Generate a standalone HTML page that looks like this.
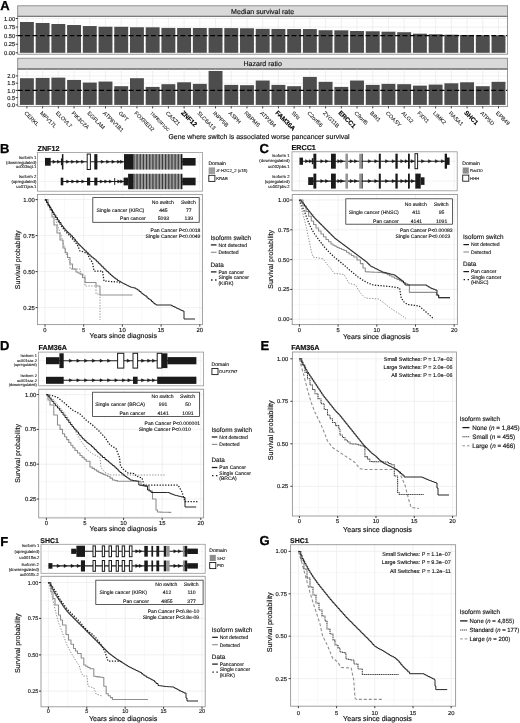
<!DOCTYPE html>
<html lang="en">
<head>
<meta charset="utf-8">
<title>Isoform switches and pancancer survival</title>
<style>
html,body{margin:0;padding:0;background:#fff;}
body{width:520px;height:723px;overflow:hidden;}
svg{display:block;font-family:'Liberation Sans', Arial, Helvetica, sans-serif;}
</style>
</head>
<body>
<svg width="520" height="723" viewBox="0 0 520 723" text-rendering="geometricPrecision" font-family="'Liberation Sans', Arial, Helvetica, sans-serif">
<rect x="0" y="0" width="520" height="723" fill="#ffffff"/>
<text x="0.3" y="10.0" font-size="13" font-weight="bold" fill="#000" stroke="#000" stroke-width="0.286">A</text>
<rect x="17.70" y="5.80" width="489.90" height="10.60" fill="#d9d9d9" stroke="#7f7f7f" stroke-width="0.8"/>
<line x1="17.70" y1="16.40" x2="507.60" y2="16.40" stroke="#666" stroke-width="1.1"/>
<text x="262.65000000000003" y="13.5" font-size="7.05" text-anchor="middle" fill="#111" stroke="#111" stroke-width="0.155">Median survival rate</text>
<line x1="17.70" y1="52.80" x2="507.60" y2="52.80" stroke="#e6e6e6" stroke-width="0.6"/>
<line x1="17.70" y1="44.22" x2="507.60" y2="44.22" stroke="#e6e6e6" stroke-width="0.6"/>
<line x1="17.70" y1="35.65" x2="507.60" y2="35.65" stroke="#e6e6e6" stroke-width="0.6"/>
<line x1="17.70" y1="27.07" x2="507.60" y2="27.07" stroke="#e6e6e6" stroke-width="0.6"/>
<line x1="17.70" y1="18.50" x2="507.60" y2="18.50" stroke="#e6e6e6" stroke-width="0.6"/>
<line x1="17.70" y1="48.51" x2="507.60" y2="48.51" stroke="#f2f2f2" stroke-width="0.4"/>
<line x1="17.70" y1="39.94" x2="507.60" y2="39.94" stroke="#f2f2f2" stroke-width="0.4"/>
<line x1="17.70" y1="31.36" x2="507.60" y2="31.36" stroke="#f2f2f2" stroke-width="0.4"/>
<line x1="17.70" y1="22.79" x2="507.60" y2="22.79" stroke="#f2f2f2" stroke-width="0.4"/>
<line x1="26.90" y1="16.40" x2="26.90" y2="54.20" stroke="#e6e6e6" stroke-width="0.6"/>
<line x1="42.62" y1="16.40" x2="42.62" y2="54.20" stroke="#e6e6e6" stroke-width="0.6"/>
<line x1="58.34" y1="16.40" x2="58.34" y2="54.20" stroke="#e6e6e6" stroke-width="0.6"/>
<line x1="74.06" y1="16.40" x2="74.06" y2="54.20" stroke="#e6e6e6" stroke-width="0.6"/>
<line x1="89.78" y1="16.40" x2="89.78" y2="54.20" stroke="#e6e6e6" stroke-width="0.6"/>
<line x1="105.50" y1="16.40" x2="105.50" y2="54.20" stroke="#e6e6e6" stroke-width="0.6"/>
<line x1="121.22" y1="16.40" x2="121.22" y2="54.20" stroke="#e6e6e6" stroke-width="0.6"/>
<line x1="136.94" y1="16.40" x2="136.94" y2="54.20" stroke="#e6e6e6" stroke-width="0.6"/>
<line x1="152.66" y1="16.40" x2="152.66" y2="54.20" stroke="#e6e6e6" stroke-width="0.6"/>
<line x1="168.38" y1="16.40" x2="168.38" y2="54.20" stroke="#e6e6e6" stroke-width="0.6"/>
<line x1="184.10" y1="16.40" x2="184.10" y2="54.20" stroke="#e6e6e6" stroke-width="0.6"/>
<line x1="199.82" y1="16.40" x2="199.82" y2="54.20" stroke="#e6e6e6" stroke-width="0.6"/>
<line x1="215.54" y1="16.40" x2="215.54" y2="54.20" stroke="#e6e6e6" stroke-width="0.6"/>
<line x1="231.26" y1="16.40" x2="231.26" y2="54.20" stroke="#e6e6e6" stroke-width="0.6"/>
<line x1="246.98" y1="16.40" x2="246.98" y2="54.20" stroke="#e6e6e6" stroke-width="0.6"/>
<line x1="262.70" y1="16.40" x2="262.70" y2="54.20" stroke="#e6e6e6" stroke-width="0.6"/>
<line x1="278.42" y1="16.40" x2="278.42" y2="54.20" stroke="#e6e6e6" stroke-width="0.6"/>
<line x1="294.14" y1="16.40" x2="294.14" y2="54.20" stroke="#e6e6e6" stroke-width="0.6"/>
<line x1="309.86" y1="16.40" x2="309.86" y2="54.20" stroke="#e6e6e6" stroke-width="0.6"/>
<line x1="325.58" y1="16.40" x2="325.58" y2="54.20" stroke="#e6e6e6" stroke-width="0.6"/>
<line x1="341.30" y1="16.40" x2="341.30" y2="54.20" stroke="#e6e6e6" stroke-width="0.6"/>
<line x1="357.02" y1="16.40" x2="357.02" y2="54.20" stroke="#e6e6e6" stroke-width="0.6"/>
<line x1="372.74" y1="16.40" x2="372.74" y2="54.20" stroke="#e6e6e6" stroke-width="0.6"/>
<line x1="388.46" y1="16.40" x2="388.46" y2="54.20" stroke="#e6e6e6" stroke-width="0.6"/>
<line x1="404.18" y1="16.40" x2="404.18" y2="54.20" stroke="#e6e6e6" stroke-width="0.6"/>
<line x1="419.90" y1="16.40" x2="419.90" y2="54.20" stroke="#e6e6e6" stroke-width="0.6"/>
<line x1="435.62" y1="16.40" x2="435.62" y2="54.20" stroke="#e6e6e6" stroke-width="0.6"/>
<line x1="451.34" y1="16.40" x2="451.34" y2="54.20" stroke="#e6e6e6" stroke-width="0.6"/>
<line x1="467.06" y1="16.40" x2="467.06" y2="54.20" stroke="#e6e6e6" stroke-width="0.6"/>
<line x1="482.78" y1="16.40" x2="482.78" y2="54.20" stroke="#e6e6e6" stroke-width="0.6"/>
<line x1="498.50" y1="16.40" x2="498.50" y2="54.20" stroke="#e6e6e6" stroke-width="0.6"/>
<rect x="19.95" y="22.00" width="13.90" height="30.80" fill="#4d4d4d" stroke="none" stroke-width="1"/>
<rect x="35.67" y="22.99" width="13.90" height="29.81" fill="#4d4d4d" stroke="none" stroke-width="1"/>
<rect x="51.39" y="23.99" width="13.90" height="28.81" fill="#4d4d4d" stroke="none" stroke-width="1"/>
<rect x="67.11" y="25.02" width="13.90" height="27.78" fill="#4d4d4d" stroke="none" stroke-width="1"/>
<rect x="82.83" y="26.05" width="13.90" height="26.75" fill="#4d4d4d" stroke="none" stroke-width="1"/>
<rect x="98.55" y="26.73" width="13.90" height="26.07" fill="#4d4d4d" stroke="none" stroke-width="1"/>
<rect x="114.27" y="26.80" width="13.90" height="26.00" fill="#4d4d4d" stroke="none" stroke-width="1"/>
<rect x="129.99" y="27.25" width="13.90" height="25.55" fill="#4d4d4d" stroke="none" stroke-width="1"/>
<rect x="145.71" y="27.32" width="13.90" height="25.48" fill="#4d4d4d" stroke="none" stroke-width="1"/>
<rect x="161.43" y="27.93" width="13.90" height="24.87" fill="#4d4d4d" stroke="none" stroke-width="1"/>
<rect x="177.15" y="28.00" width="13.90" height="24.80" fill="#4d4d4d" stroke="none" stroke-width="1"/>
<rect x="192.87" y="28.00" width="13.90" height="24.80" fill="#4d4d4d" stroke="none" stroke-width="1"/>
<rect x="208.59" y="28.04" width="13.90" height="24.76" fill="#4d4d4d" stroke="none" stroke-width="1"/>
<rect x="224.31" y="28.10" width="13.90" height="24.70" fill="#4d4d4d" stroke="none" stroke-width="1"/>
<rect x="240.03" y="28.28" width="13.90" height="24.52" fill="#4d4d4d" stroke="none" stroke-width="1"/>
<rect x="255.75" y="28.89" width="13.90" height="23.91" fill="#4d4d4d" stroke="none" stroke-width="1"/>
<rect x="271.47" y="28.96" width="13.90" height="23.84" fill="#4d4d4d" stroke="none" stroke-width="1"/>
<rect x="287.19" y="29.00" width="13.90" height="23.80" fill="#4d4d4d" stroke="none" stroke-width="1"/>
<rect x="302.91" y="29.06" width="13.90" height="23.74" fill="#4d4d4d" stroke="none" stroke-width="1"/>
<rect x="318.63" y="30.23" width="13.90" height="22.57" fill="#4d4d4d" stroke="none" stroke-width="1"/>
<rect x="334.35" y="30.33" width="13.90" height="22.47" fill="#4d4d4d" stroke="none" stroke-width="1"/>
<rect x="350.07" y="31.02" width="13.90" height="21.78" fill="#4d4d4d" stroke="none" stroke-width="1"/>
<rect x="365.79" y="31.29" width="13.90" height="21.51" fill="#4d4d4d" stroke="none" stroke-width="1"/>
<rect x="381.51" y="31.71" width="13.90" height="21.09" fill="#4d4d4d" stroke="none" stroke-width="1"/>
<rect x="397.23" y="32.22" width="13.90" height="20.58" fill="#4d4d4d" stroke="none" stroke-width="1"/>
<rect x="412.95" y="33.69" width="13.90" height="19.11" fill="#4d4d4d" stroke="none" stroke-width="1"/>
<rect x="428.67" y="34.28" width="13.90" height="18.52" fill="#4d4d4d" stroke="none" stroke-width="1"/>
<rect x="444.39" y="34.69" width="13.90" height="18.11" fill="#4d4d4d" stroke="none" stroke-width="1"/>
<rect x="460.11" y="34.96" width="13.90" height="17.84" fill="#4d4d4d" stroke="none" stroke-width="1"/>
<rect x="475.83" y="35.31" width="13.90" height="17.49" fill="#4d4d4d" stroke="none" stroke-width="1"/>
<rect x="491.55" y="35.38" width="13.90" height="17.42" fill="#4d4d4d" stroke="none" stroke-width="1"/>
<line x1="17.70" y1="35.65" x2="507.60" y2="35.65" stroke="#000" stroke-width="1.3" stroke-dasharray="4.9 2.5"/>
<rect x="17.70" y="16.40" width="489.90" height="37.80" fill="none" stroke="#7f7f7f" stroke-width="0.8"/>
<line x1="15.70" y1="52.80" x2="17.70" y2="52.80" stroke="#222" stroke-width="0.9"/>
<text x="15.1" y="54.9" font-size="5.7" text-anchor="end" fill="#111" stroke="#111" stroke-width="0.125">0.00</text>
<line x1="15.70" y1="44.22" x2="17.70" y2="44.22" stroke="#222" stroke-width="0.9"/>
<text x="15.1" y="46.324999999999996" font-size="5.7" text-anchor="end" fill="#111" stroke="#111" stroke-width="0.125">0.25</text>
<line x1="15.70" y1="35.65" x2="17.70" y2="35.65" stroke="#222" stroke-width="0.9"/>
<text x="15.1" y="37.75" font-size="5.7" text-anchor="end" fill="#111" stroke="#111" stroke-width="0.125">0.50</text>
<line x1="15.70" y1="27.07" x2="17.70" y2="27.07" stroke="#222" stroke-width="0.9"/>
<text x="15.1" y="29.175" font-size="5.7" text-anchor="end" fill="#111" stroke="#111" stroke-width="0.125">0.75</text>
<line x1="15.70" y1="18.50" x2="17.70" y2="18.50" stroke="#222" stroke-width="0.9"/>
<text x="15.1" y="20.6" font-size="5.7" text-anchor="end" fill="#111" stroke="#111" stroke-width="0.125">1.00</text>
<rect x="17.70" y="58.20" width="489.90" height="10.80" fill="#d9d9d9" stroke="#7f7f7f" stroke-width="0.8"/>
<line x1="17.70" y1="69.00" x2="507.60" y2="69.00" stroke="#666" stroke-width="1.1"/>
<text x="262.65000000000003" y="65.8" font-size="7.05" text-anchor="middle" fill="#111" stroke="#111" stroke-width="0.155">Hazard ratio</text>
<line x1="17.70" y1="104.90" x2="507.60" y2="104.90" stroke="#e6e6e6" stroke-width="0.6"/>
<line x1="17.70" y1="97.65" x2="507.60" y2="97.65" stroke="#e6e6e6" stroke-width="0.6"/>
<line x1="17.70" y1="90.40" x2="507.60" y2="90.40" stroke="#e6e6e6" stroke-width="0.6"/>
<line x1="17.70" y1="83.15" x2="507.60" y2="83.15" stroke="#e6e6e6" stroke-width="0.6"/>
<line x1="17.70" y1="75.90" x2="507.60" y2="75.90" stroke="#e6e6e6" stroke-width="0.6"/>
<line x1="17.70" y1="101.28" x2="507.60" y2="101.28" stroke="#f2f2f2" stroke-width="0.4"/>
<line x1="17.70" y1="94.03" x2="507.60" y2="94.03" stroke="#f2f2f2" stroke-width="0.4"/>
<line x1="17.70" y1="86.78" x2="507.60" y2="86.78" stroke="#f2f2f2" stroke-width="0.4"/>
<line x1="17.70" y1="79.53" x2="507.60" y2="79.53" stroke="#f2f2f2" stroke-width="0.4"/>
<line x1="17.70" y1="72.28" x2="507.60" y2="72.28" stroke="#f2f2f2" stroke-width="0.4"/>
<line x1="26.90" y1="69.00" x2="26.90" y2="106.40" stroke="#e6e6e6" stroke-width="0.6"/>
<line x1="42.62" y1="69.00" x2="42.62" y2="106.40" stroke="#e6e6e6" stroke-width="0.6"/>
<line x1="58.34" y1="69.00" x2="58.34" y2="106.40" stroke="#e6e6e6" stroke-width="0.6"/>
<line x1="74.06" y1="69.00" x2="74.06" y2="106.40" stroke="#e6e6e6" stroke-width="0.6"/>
<line x1="89.78" y1="69.00" x2="89.78" y2="106.40" stroke="#e6e6e6" stroke-width="0.6"/>
<line x1="105.50" y1="69.00" x2="105.50" y2="106.40" stroke="#e6e6e6" stroke-width="0.6"/>
<line x1="121.22" y1="69.00" x2="121.22" y2="106.40" stroke="#e6e6e6" stroke-width="0.6"/>
<line x1="136.94" y1="69.00" x2="136.94" y2="106.40" stroke="#e6e6e6" stroke-width="0.6"/>
<line x1="152.66" y1="69.00" x2="152.66" y2="106.40" stroke="#e6e6e6" stroke-width="0.6"/>
<line x1="168.38" y1="69.00" x2="168.38" y2="106.40" stroke="#e6e6e6" stroke-width="0.6"/>
<line x1="184.10" y1="69.00" x2="184.10" y2="106.40" stroke="#e6e6e6" stroke-width="0.6"/>
<line x1="199.82" y1="69.00" x2="199.82" y2="106.40" stroke="#e6e6e6" stroke-width="0.6"/>
<line x1="215.54" y1="69.00" x2="215.54" y2="106.40" stroke="#e6e6e6" stroke-width="0.6"/>
<line x1="231.26" y1="69.00" x2="231.26" y2="106.40" stroke="#e6e6e6" stroke-width="0.6"/>
<line x1="246.98" y1="69.00" x2="246.98" y2="106.40" stroke="#e6e6e6" stroke-width="0.6"/>
<line x1="262.70" y1="69.00" x2="262.70" y2="106.40" stroke="#e6e6e6" stroke-width="0.6"/>
<line x1="278.42" y1="69.00" x2="278.42" y2="106.40" stroke="#e6e6e6" stroke-width="0.6"/>
<line x1="294.14" y1="69.00" x2="294.14" y2="106.40" stroke="#e6e6e6" stroke-width="0.6"/>
<line x1="309.86" y1="69.00" x2="309.86" y2="106.40" stroke="#e6e6e6" stroke-width="0.6"/>
<line x1="325.58" y1="69.00" x2="325.58" y2="106.40" stroke="#e6e6e6" stroke-width="0.6"/>
<line x1="341.30" y1="69.00" x2="341.30" y2="106.40" stroke="#e6e6e6" stroke-width="0.6"/>
<line x1="357.02" y1="69.00" x2="357.02" y2="106.40" stroke="#e6e6e6" stroke-width="0.6"/>
<line x1="372.74" y1="69.00" x2="372.74" y2="106.40" stroke="#e6e6e6" stroke-width="0.6"/>
<line x1="388.46" y1="69.00" x2="388.46" y2="106.40" stroke="#e6e6e6" stroke-width="0.6"/>
<line x1="404.18" y1="69.00" x2="404.18" y2="106.40" stroke="#e6e6e6" stroke-width="0.6"/>
<line x1="419.90" y1="69.00" x2="419.90" y2="106.40" stroke="#e6e6e6" stroke-width="0.6"/>
<line x1="435.62" y1="69.00" x2="435.62" y2="106.40" stroke="#e6e6e6" stroke-width="0.6"/>
<line x1="451.34" y1="69.00" x2="451.34" y2="106.40" stroke="#e6e6e6" stroke-width="0.6"/>
<line x1="467.06" y1="69.00" x2="467.06" y2="106.40" stroke="#e6e6e6" stroke-width="0.6"/>
<line x1="482.78" y1="69.00" x2="482.78" y2="106.40" stroke="#e6e6e6" stroke-width="0.6"/>
<line x1="498.50" y1="69.00" x2="498.50" y2="106.40" stroke="#e6e6e6" stroke-width="0.6"/>
<rect x="19.95" y="78.22" width="13.90" height="26.68" fill="#4d4d4d" stroke="none" stroke-width="1"/>
<rect x="35.67" y="77.93" width="13.90" height="26.97" fill="#4d4d4d" stroke="none" stroke-width="1"/>
<rect x="51.39" y="77.64" width="13.90" height="27.26" fill="#4d4d4d" stroke="none" stroke-width="1"/>
<rect x="67.11" y="79.96" width="13.90" height="24.94" fill="#4d4d4d" stroke="none" stroke-width="1"/>
<rect x="82.83" y="82.57" width="13.90" height="22.33" fill="#4d4d4d" stroke="none" stroke-width="1"/>
<rect x="98.55" y="81.56" width="13.90" height="23.34" fill="#4d4d4d" stroke="none" stroke-width="1"/>
<rect x="114.27" y="86.20" width="13.90" height="18.70" fill="#4d4d4d" stroke="none" stroke-width="1"/>
<rect x="129.99" y="78.22" width="13.90" height="26.68" fill="#4d4d4d" stroke="none" stroke-width="1"/>
<rect x="145.71" y="86.92" width="13.90" height="17.98" fill="#4d4d4d" stroke="none" stroke-width="1"/>
<rect x="161.43" y="84.17" width="13.90" height="20.73" fill="#4d4d4d" stroke="none" stroke-width="1"/>
<rect x="177.15" y="82.28" width="13.90" height="22.62" fill="#4d4d4d" stroke="none" stroke-width="1"/>
<rect x="192.87" y="83.88" width="13.90" height="21.03" fill="#4d4d4d" stroke="none" stroke-width="1"/>
<rect x="208.59" y="70.97" width="13.90" height="33.93" fill="#4d4d4d" stroke="none" stroke-width="1"/>
<rect x="224.31" y="84.89" width="13.90" height="20.01" fill="#4d4d4d" stroke="none" stroke-width="1"/>
<rect x="240.03" y="85.18" width="13.90" height="19.72" fill="#4d4d4d" stroke="none" stroke-width="1"/>
<rect x="255.75" y="80.54" width="13.90" height="24.36" fill="#4d4d4d" stroke="none" stroke-width="1"/>
<rect x="271.47" y="84.89" width="13.90" height="20.01" fill="#4d4d4d" stroke="none" stroke-width="1"/>
<rect x="287.19" y="86.20" width="13.90" height="18.70" fill="#4d4d4d" stroke="none" stroke-width="1"/>
<rect x="302.91" y="76.92" width="13.90" height="27.98" fill="#4d4d4d" stroke="none" stroke-width="1"/>
<rect x="318.63" y="81.84" width="13.90" height="23.06" fill="#4d4d4d" stroke="none" stroke-width="1"/>
<rect x="334.35" y="86.92" width="13.90" height="17.98" fill="#4d4d4d" stroke="none" stroke-width="1"/>
<rect x="350.07" y="80.54" width="13.90" height="24.36" fill="#4d4d4d" stroke="none" stroke-width="1"/>
<rect x="365.79" y="84.89" width="13.90" height="20.01" fill="#4d4d4d" stroke="none" stroke-width="1"/>
<rect x="381.51" y="83.88" width="13.90" height="21.03" fill="#4d4d4d" stroke="none" stroke-width="1"/>
<rect x="397.23" y="84.17" width="13.90" height="20.73" fill="#4d4d4d" stroke="none" stroke-width="1"/>
<rect x="412.95" y="85.62" width="13.90" height="19.28" fill="#4d4d4d" stroke="none" stroke-width="1"/>
<rect x="428.67" y="84.60" width="13.90" height="20.30" fill="#4d4d4d" stroke="none" stroke-width="1"/>
<rect x="444.39" y="83.30" width="13.90" height="21.61" fill="#4d4d4d" stroke="none" stroke-width="1"/>
<rect x="460.11" y="82.28" width="13.90" height="22.62" fill="#4d4d4d" stroke="none" stroke-width="1"/>
<rect x="475.83" y="86.20" width="13.90" height="18.70" fill="#4d4d4d" stroke="none" stroke-width="1"/>
<rect x="491.55" y="81.84" width="13.90" height="23.06" fill="#4d4d4d" stroke="none" stroke-width="1"/>
<line x1="17.70" y1="90.40" x2="507.60" y2="90.40" stroke="#000" stroke-width="1.3" stroke-dasharray="4.9 2.5"/>
<rect x="17.70" y="69.00" width="489.90" height="37.40" fill="none" stroke="#7f7f7f" stroke-width="0.8"/>
<line x1="15.70" y1="104.90" x2="17.70" y2="104.90" stroke="#222" stroke-width="0.9"/>
<text x="15.1" y="107.0" font-size="5.7" text-anchor="end" fill="#111" stroke="#111" stroke-width="0.125">0.0</text>
<line x1="15.70" y1="97.65" x2="17.70" y2="97.65" stroke="#222" stroke-width="0.9"/>
<text x="15.1" y="99.75" font-size="5.7" text-anchor="end" fill="#111" stroke="#111" stroke-width="0.125">0.5</text>
<line x1="15.70" y1="90.40" x2="17.70" y2="90.40" stroke="#222" stroke-width="0.9"/>
<text x="15.1" y="92.5" font-size="5.7" text-anchor="end" fill="#111" stroke="#111" stroke-width="0.125">1.0</text>
<line x1="15.70" y1="83.15" x2="17.70" y2="83.15" stroke="#222" stroke-width="0.9"/>
<text x="15.1" y="85.25" font-size="5.7" text-anchor="end" fill="#111" stroke="#111" stroke-width="0.125">1.5</text>
<line x1="15.70" y1="75.90" x2="17.70" y2="75.90" stroke="#222" stroke-width="0.9"/>
<text x="15.1" y="78.0" font-size="5.7" text-anchor="end" fill="#111" stroke="#111" stroke-width="0.125">2.0</text>
<line x1="26.90" y1="106.40" x2="26.90" y2="108.40" stroke="#222" stroke-width="0.9"/>
<text x="24.0" y="113.6" font-size="5.45" fill="#1a1a1a" stroke="#1a1a1a" stroke-width="0.08" transform="rotate(45 24.0 113.6)">CERKL</text>
<line x1="42.62" y1="106.40" x2="42.62" y2="108.40" stroke="#222" stroke-width="0.9"/>
<text x="39.72" y="113.6" font-size="5.45" fill="#1a1a1a" stroke="#1a1a1a" stroke-width="0.08" transform="rotate(45 39.72 113.6)">MPV17L</text>
<line x1="58.34" y1="106.40" x2="58.34" y2="108.40" stroke="#222" stroke-width="0.9"/>
<text x="55.44" y="113.6" font-size="5.45" fill="#1a1a1a" stroke="#1a1a1a" stroke-width="0.08" transform="rotate(45 55.44 113.6)">ELOVL7</text>
<line x1="74.06" y1="106.40" x2="74.06" y2="108.40" stroke="#222" stroke-width="0.9"/>
<text x="71.16" y="113.6" font-size="5.45" fill="#1a1a1a" stroke="#1a1a1a" stroke-width="0.08" transform="rotate(45 71.16 113.6)">PIK3C2A</text>
<line x1="89.78" y1="106.40" x2="89.78" y2="108.40" stroke="#222" stroke-width="0.9"/>
<text x="86.88" y="113.6" font-size="5.45" fill="#1a1a1a" stroke="#1a1a1a" stroke-width="0.08" transform="rotate(45 86.88 113.6)">EGFLAM</text>
<line x1="105.50" y1="106.40" x2="105.50" y2="108.40" stroke="#222" stroke-width="0.9"/>
<text x="102.6" y="113.6" font-size="5.45" fill="#1a1a1a" stroke="#1a1a1a" stroke-width="0.08" transform="rotate(45 102.6 113.6)">ATP6V1B1</text>
<line x1="121.22" y1="106.40" x2="121.22" y2="108.40" stroke="#222" stroke-width="0.9"/>
<text x="118.32" y="113.6" font-size="5.45" fill="#1a1a1a" stroke="#1a1a1a" stroke-width="0.08" transform="rotate(45 118.32 113.6)">GPT</text>
<line x1="136.94" y1="106.40" x2="136.94" y2="108.40" stroke="#222" stroke-width="0.9"/>
<text x="134.04" y="113.6" font-size="5.45" fill="#1a1a1a" stroke="#1a1a1a" stroke-width="0.08" transform="rotate(45 134.04 113.6)">FOXRED2</text>
<line x1="152.66" y1="106.40" x2="152.66" y2="108.40" stroke="#222" stroke-width="0.9"/>
<text x="149.76" y="113.6" font-size="4.4" fill="#1a1a1a" stroke="#1a1a1a" stroke-width="0.08" transform="rotate(45 149.76 113.6)">TNFRSF10C</text>
<line x1="168.38" y1="106.40" x2="168.38" y2="108.40" stroke="#222" stroke-width="0.9"/>
<text x="165.48" y="113.6" font-size="5.45" fill="#1a1a1a" stroke="#1a1a1a" stroke-width="0.08" transform="rotate(45 165.48 113.6)">CASZ1</text>
<line x1="184.10" y1="106.40" x2="184.10" y2="108.40" stroke="#222" stroke-width="0.9"/>
<text x="180.7" y="113.2" font-size="6.4" font-weight="bold" fill="#000" stroke="#000" stroke-width="0.141" transform="rotate(45 180.7 113.2)">ZNF12</text>
<line x1="199.82" y1="106.40" x2="199.82" y2="108.40" stroke="#222" stroke-width="0.9"/>
<text x="196.92" y="113.6" font-size="5.45" fill="#1a1a1a" stroke="#1a1a1a" stroke-width="0.08" transform="rotate(45 196.92 113.6)">SLC6A13</text>
<line x1="215.54" y1="106.40" x2="215.54" y2="108.40" stroke="#222" stroke-width="0.9"/>
<text x="212.64" y="113.6" font-size="5.45" fill="#1a1a1a" stroke="#1a1a1a" stroke-width="0.08" transform="rotate(45 212.64 113.6)">INPP5B</text>
<line x1="231.26" y1="106.40" x2="231.26" y2="108.40" stroke="#222" stroke-width="0.9"/>
<text x="228.36" y="113.6" font-size="5.45" fill="#1a1a1a" stroke="#1a1a1a" stroke-width="0.08" transform="rotate(45 228.36 113.6)">ASPH</text>
<line x1="246.98" y1="106.40" x2="246.98" y2="108.40" stroke="#222" stroke-width="0.9"/>
<text x="244.08" y="113.6" font-size="5.45" fill="#1a1a1a" stroke="#1a1a1a" stroke-width="0.08" transform="rotate(45 244.08 113.6)">RBPMS</text>
<line x1="262.70" y1="106.40" x2="262.70" y2="108.40" stroke="#222" stroke-width="0.9"/>
<text x="259.8" y="113.6" font-size="5.45" fill="#1a1a1a" stroke="#1a1a1a" stroke-width="0.08" transform="rotate(45 259.8 113.6)">ATP2B4</text>
<line x1="278.42" y1="106.40" x2="278.42" y2="108.40" stroke="#222" stroke-width="0.9"/>
<text x="275.02" y="113.2" font-size="6.4" font-weight="bold" fill="#000" stroke="#000" stroke-width="0.141" transform="rotate(45 275.02 113.2)">FAM36A</text>
<line x1="294.14" y1="106.40" x2="294.14" y2="108.40" stroke="#222" stroke-width="0.9"/>
<text x="291.24" y="113.6" font-size="5.45" fill="#1a1a1a" stroke="#1a1a1a" stroke-width="0.08" transform="rotate(45 291.24 113.6)">SRI</text>
<line x1="309.86" y1="106.40" x2="309.86" y2="108.40" stroke="#222" stroke-width="0.9"/>
<text x="306.96" y="113.6" font-size="5.45" fill="#1a1a1a" stroke="#1a1a1a" stroke-width="0.08" transform="rotate(45 306.96 113.6)">C2orf56</text>
<line x1="325.58" y1="106.40" x2="325.58" y2="108.40" stroke="#222" stroke-width="0.9"/>
<text x="322.68" y="113.6" font-size="5.45" fill="#1a1a1a" stroke="#1a1a1a" stroke-width="0.08" transform="rotate(45 322.68 113.6)">ZYG11B</text>
<line x1="341.30" y1="106.40" x2="341.30" y2="108.40" stroke="#222" stroke-width="0.9"/>
<text x="337.9" y="113.2" font-size="6.4" font-weight="bold" fill="#000" stroke="#000" stroke-width="0.141" transform="rotate(45 337.9 113.2)">ERCC1</text>
<line x1="357.02" y1="106.40" x2="357.02" y2="108.40" stroke="#222" stroke-width="0.9"/>
<text x="354.12" y="113.6" font-size="5.45" fill="#1a1a1a" stroke="#1a1a1a" stroke-width="0.08" transform="rotate(45 354.12 113.6)">C9orf5</text>
<line x1="372.74" y1="106.40" x2="372.74" y2="108.40" stroke="#222" stroke-width="0.9"/>
<text x="369.84" y="113.6" font-size="5.45" fill="#1a1a1a" stroke="#1a1a1a" stroke-width="0.08" transform="rotate(45 369.84 113.6)">BIN1</text>
<line x1="388.46" y1="106.40" x2="388.46" y2="108.40" stroke="#222" stroke-width="0.9"/>
<text x="385.56" y="113.6" font-size="5.45" fill="#1a1a1a" stroke="#1a1a1a" stroke-width="0.08" transform="rotate(45 385.56 113.6)">COASY</text>
<line x1="404.18" y1="106.40" x2="404.18" y2="108.40" stroke="#222" stroke-width="0.9"/>
<text x="401.28" y="113.6" font-size="5.45" fill="#1a1a1a" stroke="#1a1a1a" stroke-width="0.08" transform="rotate(45 401.28 113.6)">ALG2</text>
<line x1="419.90" y1="106.40" x2="419.90" y2="108.40" stroke="#222" stroke-width="0.9"/>
<text x="417.0" y="113.6" font-size="5.45" fill="#1a1a1a" stroke="#1a1a1a" stroke-width="0.08" transform="rotate(45 417.0 113.6)">FXR1</text>
<line x1="435.62" y1="106.40" x2="435.62" y2="108.40" stroke="#222" stroke-width="0.9"/>
<text x="432.72" y="113.6" font-size="5.45" fill="#1a1a1a" stroke="#1a1a1a" stroke-width="0.08" transform="rotate(45 432.72 113.6)">LIMK2</text>
<line x1="451.34" y1="106.40" x2="451.34" y2="108.40" stroke="#222" stroke-width="0.9"/>
<text x="448.44" y="113.6" font-size="5.45" fill="#1a1a1a" stroke="#1a1a1a" stroke-width="0.08" transform="rotate(45 448.44 113.6)">RASA1</text>
<line x1="467.06" y1="106.40" x2="467.06" y2="108.40" stroke="#222" stroke-width="0.9"/>
<text x="463.66" y="113.2" font-size="6.4" font-weight="bold" fill="#000" stroke="#000" stroke-width="0.141" transform="rotate(45 463.66 113.2)">SHC1</text>
<line x1="482.78" y1="106.40" x2="482.78" y2="108.40" stroke="#222" stroke-width="0.9"/>
<text x="479.88" y="113.6" font-size="5.45" fill="#1a1a1a" stroke="#1a1a1a" stroke-width="0.08" transform="rotate(45 479.88 113.6)">ATP5D</text>
<line x1="498.50" y1="106.40" x2="498.50" y2="108.40" stroke="#222" stroke-width="0.9"/>
<text x="495.6" y="113.6" font-size="5.45" fill="#1a1a1a" stroke="#1a1a1a" stroke-width="0.08" transform="rotate(45 495.6 113.6)">EPB49</text>
<text x="259.0" y="138.7" font-size="6.95" text-anchor="middle" fill="#111" stroke="#111" stroke-width="0.153">Gene where switch is associated worse pancancer survival</text>
<text x="0.0" y="153.1" font-size="13" font-weight="bold" fill="#000" stroke="#000" stroke-width="0.286">B</text>
<text x="37.5" y="150.6" font-size="7.2" font-weight="bold" fill="#111" stroke="#111" stroke-width="0.158">ZNF12</text>
<rect x="37.50" y="152.40" width="164.90" height="38.80" fill="#fff" stroke="#969696" stroke-width="0.8"/>
<line x1="45.00" y1="152.40" x2="45.00" y2="191.20" stroke="#e6e6e6" stroke-width="0.5"/>
<line x1="83.70" y1="152.40" x2="83.70" y2="191.20" stroke="#e6e6e6" stroke-width="0.5"/>
<line x1="122.40" y1="152.40" x2="122.40" y2="191.20" stroke="#e6e6e6" stroke-width="0.5"/>
<line x1="161.00" y1="152.40" x2="161.00" y2="191.20" stroke="#e6e6e6" stroke-width="0.5"/>
<line x1="199.60" y1="152.40" x2="199.60" y2="191.20" stroke="#e6e6e6" stroke-width="0.5"/>
<line x1="37.50" y1="161.80" x2="202.40" y2="161.80" stroke="#e6e6e6" stroke-width="0.5"/>
<line x1="37.50" y1="181.50" x2="202.40" y2="181.50" stroke="#e6e6e6" stroke-width="0.5"/>
<line x1="50.00" y1="161.80" x2="195.00" y2="161.80" stroke="#1a1a1a" stroke-width="1.1"/>
<path d="M52.9 160.25L55.8 161.80L52.9 163.35Z" fill="#1a1a1a" stroke="#1a1a1a" stroke-width="0.5" stroke-linejoin="round"/>
<path d="M57.3 160.25L60.2 161.80L57.3 163.35Z" fill="#1a1a1a" stroke="#1a1a1a" stroke-width="0.5" stroke-linejoin="round"/>
<path d="M66.3 160.25L69.2 161.80L66.3 163.35Z" fill="#1a1a1a" stroke="#1a1a1a" stroke-width="0.5" stroke-linejoin="round"/>
<path d="M71.3 160.25L74.2 161.80L71.3 163.35Z" fill="#1a1a1a" stroke="#1a1a1a" stroke-width="0.5" stroke-linejoin="round"/>
<path d="M76.3 160.25L79.2 161.80L76.3 163.35Z" fill="#1a1a1a" stroke="#1a1a1a" stroke-width="0.5" stroke-linejoin="round"/>
<path d="M81.3 160.25L84.2 161.80L81.3 163.35Z" fill="#1a1a1a" stroke="#1a1a1a" stroke-width="0.5" stroke-linejoin="round"/>
<path d="M101.1 160.25L104.0 161.80L101.1 163.35Z" fill="#1a1a1a" stroke="#1a1a1a" stroke-width="0.5" stroke-linejoin="round"/>
<path d="M106.5 160.25L109.4 161.80L106.5 163.35Z" fill="#1a1a1a" stroke="#1a1a1a" stroke-width="0.5" stroke-linejoin="round"/>
<path d="M111.9 160.25L114.8 161.80L111.9 163.35Z" fill="#1a1a1a" stroke="#1a1a1a" stroke-width="0.5" stroke-linejoin="round"/>
<path d="M117.3 160.25L120.2 161.80L117.3 163.35Z" fill="#1a1a1a" stroke="#1a1a1a" stroke-width="0.5" stroke-linejoin="round"/>
<path d="M120.3 160.25L123.2 161.80L120.3 163.35Z" fill="#1a1a1a" stroke="#1a1a1a" stroke-width="0.5" stroke-linejoin="round"/>
<rect x="45.00" y="157.90" width="5.70" height="7.80" fill="#1a1a1a" stroke="none" stroke-width="0"/>
<rect x="60.90" y="158.40" width="1.30" height="6.80" fill="#1a1a1a" stroke="none" stroke-width="0"/>
<rect x="61.90" y="154.10" width="1.50" height="15.40" fill="#1a1a1a" stroke="none" stroke-width="0"/>
<rect x="87.20" y="154.10" width="3.20" height="15.40" fill="#fff" stroke="#1a1a1a" stroke-width="1.0"/>
<rect x="94.30" y="154.10" width="3.10" height="15.40" fill="#1a1a1a" stroke="none" stroke-width="0"/>
<rect x="124.00" y="154.10" width="9.30" height="15.40" fill="#1a1a1a" stroke="none" stroke-width="0"/>
<rect x="133.30" y="154.10" width="47.80" height="15.40" fill="#999999" stroke="none" stroke-width="1"/>
<rect x="133.30" y="154.10" width="1.15" height="15.40" fill="#3a3a3a" stroke="none" stroke-width="1"/>
<rect x="136.47" y="154.10" width="1.15" height="15.40" fill="#3a3a3a" stroke="none" stroke-width="1"/>
<rect x="139.65" y="154.10" width="1.15" height="15.40" fill="#3a3a3a" stroke="none" stroke-width="1"/>
<rect x="142.82" y="154.10" width="1.15" height="15.40" fill="#3a3a3a" stroke="none" stroke-width="1"/>
<rect x="145.99" y="154.10" width="1.15" height="15.40" fill="#3a3a3a" stroke="none" stroke-width="1"/>
<rect x="149.17" y="154.10" width="1.15" height="15.40" fill="#3a3a3a" stroke="none" stroke-width="1"/>
<rect x="152.34" y="154.10" width="1.15" height="15.40" fill="#3a3a3a" stroke="none" stroke-width="1"/>
<rect x="155.51" y="154.10" width="1.15" height="15.40" fill="#3a3a3a" stroke="none" stroke-width="1"/>
<rect x="158.69" y="154.10" width="1.15" height="15.40" fill="#3a3a3a" stroke="none" stroke-width="1"/>
<rect x="161.86" y="154.10" width="1.15" height="15.40" fill="#3a3a3a" stroke="none" stroke-width="1"/>
<rect x="165.03" y="154.10" width="1.15" height="15.40" fill="#3a3a3a" stroke="none" stroke-width="1"/>
<rect x="168.21" y="154.10" width="1.15" height="15.40" fill="#3a3a3a" stroke="none" stroke-width="1"/>
<rect x="171.38" y="154.10" width="1.15" height="15.40" fill="#3a3a3a" stroke="none" stroke-width="1"/>
<rect x="174.55" y="154.10" width="1.15" height="15.40" fill="#3a3a3a" stroke="none" stroke-width="1"/>
<rect x="177.73" y="154.10" width="1.15" height="15.40" fill="#3a3a3a" stroke="none" stroke-width="1"/>
<rect x="180.90" y="154.10" width="1.50" height="15.40" fill="#1a1a1a" stroke="none" stroke-width="1"/>
<rect x="182.30" y="158.00" width="13.30" height="7.60" fill="#1a1a1a" stroke="none" stroke-width="1"/>
<line x1="61.50" y1="181.50" x2="195.00" y2="181.50" stroke="#1a1a1a" stroke-width="1.1"/>
<path d="M66.7 179.95L69.6 181.50L66.7 183.05Z" fill="#1a1a1a" stroke="#1a1a1a" stroke-width="0.5" stroke-linejoin="round"/>
<path d="M71.7 179.95L74.6 181.50L71.7 183.05Z" fill="#1a1a1a" stroke="#1a1a1a" stroke-width="0.5" stroke-linejoin="round"/>
<path d="M76.7 179.95L79.6 181.50L76.7 183.05Z" fill="#1a1a1a" stroke="#1a1a1a" stroke-width="0.5" stroke-linejoin="round"/>
<path d="M81.7 179.95L84.6 181.50L81.7 183.05Z" fill="#1a1a1a" stroke="#1a1a1a" stroke-width="0.5" stroke-linejoin="round"/>
<path d="M100.2 179.95L103.1 181.50L100.2 183.05Z" fill="#1a1a1a" stroke="#1a1a1a" stroke-width="0.5" stroke-linejoin="round"/>
<path d="M104.7 179.95L107.6 181.50L104.7 183.05Z" fill="#1a1a1a" stroke="#1a1a1a" stroke-width="0.5" stroke-linejoin="round"/>
<path d="M109.2 179.95L112.1 181.50L109.2 183.05Z" fill="#1a1a1a" stroke="#1a1a1a" stroke-width="0.5" stroke-linejoin="round"/>
<path d="M117.7 179.95L120.6 181.50L117.7 183.05Z" fill="#1a1a1a" stroke="#1a1a1a" stroke-width="0.5" stroke-linejoin="round"/>
<path d="M120.5 179.95L123.4 181.50L120.5 183.05Z" fill="#1a1a1a" stroke="#1a1a1a" stroke-width="0.5" stroke-linejoin="round"/>
<rect x="60.70" y="177.70" width="2.60" height="7.60" fill="#1a1a1a" stroke="none" stroke-width="0"/>
<rect x="87.00" y="177.60" width="3.20" height="7.80" fill="#1a1a1a" stroke="none" stroke-width="0"/>
<rect x="94.30" y="177.60" width="3.10" height="7.80" fill="#1a1a1a" stroke="none" stroke-width="0"/>
<rect x="114.20" y="178.10" width="1.00" height="6.80" fill="#1a1a1a" stroke="none" stroke-width="0"/>
<rect x="123.60" y="177.60" width="4.50" height="7.80" fill="#1a1a1a" stroke="none" stroke-width="0"/>
<rect x="128.10" y="173.80" width="5.20" height="15.40" fill="#1a1a1a" stroke="none" stroke-width="0"/>
<rect x="133.30" y="173.80" width="47.80" height="15.40" fill="#999999" stroke="none" stroke-width="1"/>
<rect x="133.30" y="173.80" width="1.15" height="15.40" fill="#3a3a3a" stroke="none" stroke-width="1"/>
<rect x="136.47" y="173.80" width="1.15" height="15.40" fill="#3a3a3a" stroke="none" stroke-width="1"/>
<rect x="139.65" y="173.80" width="1.15" height="15.40" fill="#3a3a3a" stroke="none" stroke-width="1"/>
<rect x="142.82" y="173.80" width="1.15" height="15.40" fill="#3a3a3a" stroke="none" stroke-width="1"/>
<rect x="145.99" y="173.80" width="1.15" height="15.40" fill="#3a3a3a" stroke="none" stroke-width="1"/>
<rect x="149.17" y="173.80" width="1.15" height="15.40" fill="#3a3a3a" stroke="none" stroke-width="1"/>
<rect x="152.34" y="173.80" width="1.15" height="15.40" fill="#3a3a3a" stroke="none" stroke-width="1"/>
<rect x="155.51" y="173.80" width="1.15" height="15.40" fill="#3a3a3a" stroke="none" stroke-width="1"/>
<rect x="158.69" y="173.80" width="1.15" height="15.40" fill="#3a3a3a" stroke="none" stroke-width="1"/>
<rect x="161.86" y="173.80" width="1.15" height="15.40" fill="#3a3a3a" stroke="none" stroke-width="1"/>
<rect x="165.03" y="173.80" width="1.15" height="15.40" fill="#3a3a3a" stroke="none" stroke-width="1"/>
<rect x="168.21" y="173.80" width="1.15" height="15.40" fill="#3a3a3a" stroke="none" stroke-width="1"/>
<rect x="171.38" y="173.80" width="1.15" height="15.40" fill="#3a3a3a" stroke="none" stroke-width="1"/>
<rect x="174.55" y="173.80" width="1.15" height="15.40" fill="#3a3a3a" stroke="none" stroke-width="1"/>
<rect x="177.73" y="173.80" width="1.15" height="15.40" fill="#3a3a3a" stroke="none" stroke-width="1"/>
<rect x="180.90" y="173.80" width="1.50" height="15.40" fill="#1a1a1a" stroke="none" stroke-width="1"/>
<rect x="182.30" y="177.70" width="13.30" height="7.60" fill="#1a1a1a" stroke="none" stroke-width="1"/>
<text x="36.3" y="158.8" font-size="4.2" text-anchor="end" fill="#111" stroke="#111" stroke-width="0.092">Isoform 1</text>
<text x="36.3" y="163.9" font-size="4.2" text-anchor="end" fill="#111" stroke="#111" stroke-width="0.092">(downregulated)</text>
<text x="36.3" y="168.4" font-size="4.2" text-anchor="end" fill="#111" stroke="#111" stroke-width="0.092">uc003sqt.1</text>
<text x="36.3" y="178.1" font-size="4.2" text-anchor="end" fill="#111" stroke="#111" stroke-width="0.092">Isoform 2</text>
<text x="36.3" y="183.1" font-size="4.2" text-anchor="end" fill="#111" stroke="#111" stroke-width="0.092">(upregulated)</text>
<text x="36.3" y="188.4" font-size="4.2" text-anchor="end" fill="#111" stroke="#111" stroke-width="0.092">uc011jxa.1</text>
<text x="208.4" y="165.0" font-size="5.1" fill="#111" stroke="#111" stroke-width="0.112">Domain</text>
<rect x="208.60" y="167.50" width="6.50" height="6.50" fill="#a6a6a6" stroke="none" stroke-width="1"/>
<line x1="209.70" y1="167.50" x2="209.70" y2="174.00" stroke="#8a8a8a" stroke-width="0.6"/>
<line x1="211.85" y1="167.50" x2="211.85" y2="174.00" stroke="#8a8a8a" stroke-width="0.6"/>
<line x1="214.00" y1="167.50" x2="214.00" y2="174.00" stroke="#8a8a8a" stroke-width="0.6"/>
<text x="216.2" y="172.3" font-size="4.25" fill="#111" stroke="#111" stroke-width="0.093">zf-H2C2_2 (x15)</text>
<rect x="208.80" y="175.30" width="6.10" height="6.10" fill="#fff" stroke="#1a1a1a" stroke-width="0.9"/>
<text x="216.2" y="179.9" font-size="4.25" fill="#111" stroke="#111" stroke-width="0.093">KRAB</text>
<rect x="37.50" y="194.40" width="164.90" height="130.20" fill="#fff" stroke="none" stroke-width="1"/>
<line x1="64.40" y1="194.40" x2="64.40" y2="324.60" stroke="#f2f2f2" stroke-width="0.5"/>
<line x1="103.00" y1="194.40" x2="103.00" y2="324.60" stroke="#f2f2f2" stroke-width="0.5"/>
<line x1="141.80" y1="194.40" x2="141.80" y2="324.60" stroke="#f2f2f2" stroke-width="0.5"/>
<line x1="180.40" y1="194.40" x2="180.40" y2="324.60" stroke="#f2f2f2" stroke-width="0.5"/>
<line x1="37.50" y1="217.60" x2="202.40" y2="217.60" stroke="#f2f2f2" stroke-width="0.5"/>
<line x1="37.50" y1="253.60" x2="202.40" y2="253.60" stroke="#f2f2f2" stroke-width="0.5"/>
<line x1="37.50" y1="289.60" x2="202.40" y2="289.60" stroke="#f2f2f2" stroke-width="0.5"/>
<line x1="45.00" y1="194.40" x2="45.00" y2="324.60" stroke="#e6e6e6" stroke-width="0.6"/>
<line x1="83.70" y1="194.40" x2="83.70" y2="324.60" stroke="#e6e6e6" stroke-width="0.6"/>
<line x1="122.40" y1="194.40" x2="122.40" y2="324.60" stroke="#e6e6e6" stroke-width="0.6"/>
<line x1="161.10" y1="194.40" x2="161.10" y2="324.60" stroke="#e6e6e6" stroke-width="0.6"/>
<line x1="199.80" y1="194.40" x2="199.80" y2="324.60" stroke="#e6e6e6" stroke-width="0.6"/>
<line x1="37.50" y1="199.60" x2="202.40" y2="199.60" stroke="#e6e6e6" stroke-width="0.6"/>
<line x1="37.50" y1="235.60" x2="202.40" y2="235.60" stroke="#e6e6e6" stroke-width="0.6"/>
<line x1="37.50" y1="271.60" x2="202.40" y2="271.60" stroke="#e6e6e6" stroke-width="0.6"/>
<line x1="37.50" y1="307.60" x2="202.40" y2="307.60" stroke="#e6e6e6" stroke-width="0.6"/>
<polyline points="45.0,199.6 48.0,199.6 48.0,206.0 50.0,206.0 50.0,210.0 52.0,210.0 52.0,217.0 54.0,217.0 54.0,225.0 57.0,225.0 57.0,233.0 60.0,233.0 60.0,240.0 63.0,240.0 63.0,248.0 65.2,248.0 65.2,252.8 67.5,252.8 67.5,257.5 70.0,257.5 70.0,264.0 72.5,264.0 72.5,269.0 76.0,269.0 76.0,272.0 78.0,272.0 78.0,273.0 80.0,273.0 80.0,274.0 82.5,274.0 82.5,277.5 85.0,277.5 85.0,282.5 95.0,282.5 96.0,282.5 96.0,286.0 100.0,286.0 100.0,295.0 132.5,295.0" fill="none" stroke="#8f8f8f" stroke-width="1.1" stroke-linejoin="round"/>
<polyline points="45.0,199.6 49.0,205.0 52.5,210.0 54.0,214.0 56.0,220.0 58.0,227.0 61.0,235.0 63.5,244.0 66.0,252.5 68.0,258.0 70.0,262.5 70.0,269.0 80.0,269.0 81.0,275.0 85.0,275.0 85.0,286.0 96.0,286.0 96.0,294.0 100.0,294.0 100.0,320.0" fill="none" stroke="#8f8f8f" stroke-width="1.0" stroke-dasharray="1.3 1.5" stroke-linejoin="round"/>
<polyline points="45.0,199.6 50.0,207.0 55.0,216.0 60.0,224.0 65.0,231.0 70.0,236.0 75.0,242.0 77.5,245.0 80.0,251.0 84.0,252.0 87.5,254.0 90.0,259.0 92.5,262.5 94.0,271.0 102.5,271.0 104.0,281.0 117.5,282.0 120.0,283.0" fill="none" stroke="#1a1a1a" stroke-width="1.25" stroke-dasharray="1.3 1.5" stroke-linejoin="round"/>
<polyline points="45.0,199.6 46.5,199.6 46.5,202.3 48.0,202.3 48.0,205.0 49.5,205.0 49.5,207.5 51.0,207.5 51.0,210.0 52.5,210.0 52.5,212.5 54.0,212.5 54.0,215.0 55.8,215.0 55.8,217.5 57.5,217.5 57.5,220.0 59.2,220.0 59.2,222.5 61.0,222.5 61.0,225.0 62.3,225.0 62.3,226.7 63.7,226.7 63.7,228.3 65.0,228.3 65.0,230.0 66.3,230.0 66.3,231.3 67.7,231.3 67.7,232.7 69.0,232.7 69.0,234.0 70.8,234.0 70.8,235.8 72.5,235.8 72.5,237.5 74.0,237.5 74.0,239.3 75.5,239.3 75.5,241.2 77.0,241.2 77.0,243.0 78.3,243.0 78.3,244.3 79.7,244.3 79.7,245.7 81.0,245.7 81.0,247.0 82.3,247.0 82.3,248.3 83.7,248.3 83.7,249.7 85.0,249.7 85.0,251.0 86.7,251.0 86.7,252.7 88.3,252.7 88.3,254.3 90.0,254.3 90.0,256.0 91.7,256.0 91.7,257.3 93.3,257.3 93.3,258.7 95.0,258.7 95.0,260.0 96.7,260.0 96.7,261.7 98.3,261.7 98.3,263.3 100.0,263.3 100.0,265.0 101.7,265.0 101.7,266.7 103.3,266.7 103.3,268.3 105.0,268.3 105.0,270.0 106.7,270.0 106.7,271.5 108.3,271.5 108.3,273.0 110.0,273.0 110.0,274.5 111.3,274.5 111.3,275.7 112.7,275.7 112.7,276.8 114.0,276.8 114.0,278.0 115.8,278.0 115.8,279.2 117.5,279.2 117.5,280.5 119.0,280.5 119.0,281.3 120.5,281.3 120.5,282.2 122.0,282.2 122.0,283.0 123.3,283.0 123.3,283.7 124.7,283.7 124.7,284.3 126.0,284.3 126.0,285.0 127.3,285.0 127.3,285.7 128.7,285.7 128.7,286.3 130.0,286.3 130.0,287.0 131.3,287.0 131.3,287.3 132.7,287.3 132.7,287.7 134.0,287.7 134.0,288.0 135.8,288.0 135.8,289.0 137.5,289.0 137.5,290.0 139.2,290.0 139.2,291.5 141.0,291.5 141.0,293.0 142.3,293.0 142.3,294.0 143.7,294.0 143.7,295.0 145.0,295.0 145.0,296.0 147.0,296.0 147.0,298.0 148.5,298.0 148.5,299.0 150.0,299.0 150.0,300.0 151.5,300.0 151.5,301.5 153.0,301.5 153.0,303.0 154.5,303.0 154.5,304.0 156.0,304.0 156.0,305.0 170.0,305.0 171.5,305.0 171.5,305.8 173.0,305.8 173.0,306.5 174.5,306.5 174.5,307.2 176.0,307.2 176.0,308.0 177.3,308.0 177.3,308.6 178.6,308.6 178.6,309.2 179.9,309.2 179.9,309.8 181.2,309.8 181.2,310.4 182.5,310.4 182.5,311.0 184.0,311.0 184.0,319.0 195.0,319.0" fill="none" stroke="#1a1a1a" stroke-width="0.95" stroke-linejoin="round"/>
<rect x="37.50" y="194.40" width="164.90" height="130.20" fill="none" stroke="#969696" stroke-width="0.9"/>
<line x1="45.00" y1="324.60" x2="45.00" y2="326.60" stroke="#222" stroke-width="0.9"/>
<text x="45" y="332.0" font-size="5.9" text-anchor="middle" fill="#111" stroke="#111" stroke-width="0.13">0</text>
<line x1="83.70" y1="324.60" x2="83.70" y2="326.60" stroke="#222" stroke-width="0.9"/>
<text x="83.7" y="332.0" font-size="5.9" text-anchor="middle" fill="#111" stroke="#111" stroke-width="0.13">5</text>
<line x1="122.40" y1="324.60" x2="122.40" y2="326.60" stroke="#222" stroke-width="0.9"/>
<text x="122.4" y="332.0" font-size="5.9" text-anchor="middle" fill="#111" stroke="#111" stroke-width="0.13">10</text>
<line x1="161.10" y1="324.60" x2="161.10" y2="326.60" stroke="#222" stroke-width="0.9"/>
<text x="161.1" y="332.0" font-size="5.9" text-anchor="middle" fill="#111" stroke="#111" stroke-width="0.13">15</text>
<line x1="199.80" y1="324.60" x2="199.80" y2="326.60" stroke="#222" stroke-width="0.9"/>
<text x="199.8" y="332.0" font-size="5.9" text-anchor="middle" fill="#111" stroke="#111" stroke-width="0.13">20</text>
<line x1="35.50" y1="199.60" x2="37.50" y2="199.60" stroke="#222" stroke-width="0.9"/>
<text x="34.8" y="201.65" font-size="5.9" text-anchor="end" fill="#111" stroke="#111" stroke-width="0.13">1.00</text>
<line x1="35.50" y1="235.60" x2="37.50" y2="235.60" stroke="#222" stroke-width="0.9"/>
<text x="34.8" y="237.65" font-size="5.9" text-anchor="end" fill="#111" stroke="#111" stroke-width="0.13">0.75</text>
<line x1="35.50" y1="271.60" x2="37.50" y2="271.60" stroke="#222" stroke-width="0.9"/>
<text x="34.8" y="273.65" font-size="5.9" text-anchor="end" fill="#111" stroke="#111" stroke-width="0.13">0.50</text>
<line x1="35.50" y1="307.60" x2="37.50" y2="307.60" stroke="#222" stroke-width="0.9"/>
<text x="34.8" y="309.65" font-size="5.9" text-anchor="end" fill="#111" stroke="#111" stroke-width="0.13">0.25</text>
<text x="123.2" y="338.2" font-size="7.0" text-anchor="middle" fill="#111" stroke="#111" stroke-width="0.154">Years since diagnosis</text>
<text x="20.0" y="259.8" font-size="7.0" text-anchor="middle" fill="#111" stroke="#111" stroke-width="0.154" transform="rotate(-90 20.0 259.8)">Survival probability</text>
<rect x="92.80" y="197.60" width="106.40" height="24.70" fill="#fff" stroke="#333" stroke-width="0.8"/>
<text x="162.8" y="204.0" font-size="5.1" text-anchor="middle" fill="#111" stroke="#111" stroke-width="0.112">No switch</text>
<text x="188.4" y="204.0" font-size="5.1" text-anchor="middle" fill="#111" stroke="#111" stroke-width="0.112">Switch</text>
<text x="144.3" y="212.1" font-size="5.1" text-anchor="end" fill="#111" stroke="#111" stroke-width="0.112">Single cancer (KIRC)</text>
<text x="163.4" y="212.1" font-size="5.1" text-anchor="middle" fill="#111" stroke="#111" stroke-width="0.112">445</text>
<text x="188.8" y="212.1" font-size="5.1" text-anchor="middle" fill="#111" stroke="#111" stroke-width="0.112">77</text>
<text x="145.8" y="220.2" font-size="5.1" text-anchor="end" fill="#111" stroke="#111" stroke-width="0.112">Pan cancer</text>
<text x="163.4" y="220.2" font-size="5.1" text-anchor="middle" fill="#111" stroke="#111" stroke-width="0.112">5093</text>
<text x="188.8" y="220.2" font-size="5.1" text-anchor="middle" fill="#111" stroke="#111" stroke-width="0.112">139</text>
<text x="200.4" y="231.7" font-size="5.05" text-anchor="end" fill="#111" stroke="#111" stroke-width="0.111">Pan Cancer P&lt;0.0018</text>
<text x="200.4" y="238.0" font-size="5.05" text-anchor="end" fill="#111" stroke="#111" stroke-width="0.111">Single Cancer P&lt;0.0049</text>
<text x="210.5" y="239.5" font-size="6.35" fill="#111" stroke="#111" stroke-width="0.14">Isoform switch</text>
<line x1="210.90" y1="244.90" x2="216.50" y2="244.90" stroke="#1a1a1a" stroke-width="1.25"/>
<text x="218.4" y="246.7" font-size="5.05" fill="#111" stroke="#111" stroke-width="0.111">Not detected</text>
<line x1="210.90" y1="252.30" x2="216.50" y2="252.30" stroke="#8f8f8f" stroke-width="1.15"/>
<text x="218.4" y="254.1" font-size="5.05" fill="#111" stroke="#111" stroke-width="0.111">Detected</text>
<text x="210.5" y="266.5" font-size="6.35" fill="#111" stroke="#111" stroke-width="0.14">Data</text>
<line x1="210.90" y1="271.90" x2="216.50" y2="271.90" stroke="#1a1a1a" stroke-width="1.25"/>
<text x="218.4" y="273.7" font-size="5.05" fill="#111" stroke="#111" stroke-width="0.111">Pan cancer</text>
<line x1="211.10" y1="280.00" x2="216.70" y2="280.00" stroke="#1a1a1a" stroke-width="1.3" stroke-dasharray="1.4 2.6"/>
<text x="218.4" y="279.0" font-size="5.05" fill="#111" stroke="#111" stroke-width="0.111">Single cancer</text>
<text x="218.4" y="284.5" font-size="5.05" fill="#111" stroke="#111" stroke-width="0.111">(KIRK)</text>
<text x="259.6" y="153.1" font-size="13" font-weight="bold" fill="#000" stroke="#000" stroke-width="0.286">C</text>
<text x="291.5" y="150.4" font-size="7.2" font-weight="bold" fill="#111" stroke="#111" stroke-width="0.158">ERCC1</text>
<rect x="292.00" y="151.80" width="165.20" height="39.00" fill="#fff" stroke="#969696" stroke-width="0.8"/>
<line x1="299.40" y1="151.80" x2="299.40" y2="190.80" stroke="#e6e6e6" stroke-width="0.5"/>
<line x1="338.10" y1="151.80" x2="338.10" y2="190.80" stroke="#e6e6e6" stroke-width="0.5"/>
<line x1="376.80" y1="151.80" x2="376.80" y2="190.80" stroke="#e6e6e6" stroke-width="0.5"/>
<line x1="415.50" y1="151.80" x2="415.50" y2="190.80" stroke="#e6e6e6" stroke-width="0.5"/>
<line x1="454.20" y1="151.80" x2="454.20" y2="190.80" stroke="#e6e6e6" stroke-width="0.5"/>
<line x1="292.00" y1="161.20" x2="457.20" y2="161.20" stroke="#e6e6e6" stroke-width="0.5"/>
<line x1="292.00" y1="181.10" x2="457.20" y2="181.10" stroke="#e6e6e6" stroke-width="0.5"/>
<line x1="302.00" y1="161.20" x2="447.00" y2="161.20" stroke="#1a1a1a" stroke-width="1.1"/>
<path d="M305.5 159.65L308.4 161.20L305.5 162.75Z" fill="#1a1a1a" stroke="#1a1a1a" stroke-width="0.5" stroke-linejoin="round"/>
<path d="M309.1 159.65L312.0 161.20L309.1 162.75Z" fill="#1a1a1a" stroke="#1a1a1a" stroke-width="0.5" stroke-linejoin="round"/>
<path d="M320.7 159.65L323.6 161.20L320.7 162.75Z" fill="#1a1a1a" stroke="#1a1a1a" stroke-width="0.5" stroke-linejoin="round"/>
<path d="M325.4 159.65L328.3 161.20L325.4 162.75Z" fill="#1a1a1a" stroke="#1a1a1a" stroke-width="0.5" stroke-linejoin="round"/>
<path d="M337.7 159.65L340.6 161.20L337.7 162.75Z" fill="#1a1a1a" stroke="#1a1a1a" stroke-width="0.5" stroke-linejoin="round"/>
<path d="M340.6 159.65L343.5 161.20L340.6 162.75Z" fill="#1a1a1a" stroke="#1a1a1a" stroke-width="0.5" stroke-linejoin="round"/>
<path d="M350.1 159.65L353.0 161.20L350.1 162.75Z" fill="#1a1a1a" stroke="#1a1a1a" stroke-width="0.5" stroke-linejoin="round"/>
<path d="M354.4 159.65L357.3 161.20L354.4 162.75Z" fill="#1a1a1a" stroke="#1a1a1a" stroke-width="0.5" stroke-linejoin="round"/>
<path d="M368.3 159.65L371.2 161.20L368.3 162.75Z" fill="#1a1a1a" stroke="#1a1a1a" stroke-width="0.5" stroke-linejoin="round"/>
<path d="M374.7 159.65L377.6 161.20L374.7 162.75Z" fill="#1a1a1a" stroke="#1a1a1a" stroke-width="0.5" stroke-linejoin="round"/>
<path d="M385.5 159.65L388.4 161.20L385.5 162.75Z" fill="#1a1a1a" stroke="#1a1a1a" stroke-width="0.5" stroke-linejoin="round"/>
<path d="M392.1 159.65L395.0 161.20L392.1 162.75Z" fill="#1a1a1a" stroke="#1a1a1a" stroke-width="0.5" stroke-linejoin="round"/>
<path d="M400.7 159.65L403.6 161.20L400.7 162.75Z" fill="#1a1a1a" stroke="#1a1a1a" stroke-width="0.5" stroke-linejoin="round"/>
<path d="M405.0 159.65L407.9 161.20L405.0 162.75Z" fill="#1a1a1a" stroke="#1a1a1a" stroke-width="0.5" stroke-linejoin="round"/>
<path d="M411.1 159.65L414.0 161.20L411.1 162.75Z" fill="#1a1a1a" stroke="#1a1a1a" stroke-width="0.5" stroke-linejoin="round"/>
<path d="M421.5 159.65L424.4 161.20L421.5 162.75Z" fill="#1a1a1a" stroke="#1a1a1a" stroke-width="0.5" stroke-linejoin="round"/>
<path d="M428.4 159.65L431.3 161.20L428.4 162.75Z" fill="#1a1a1a" stroke="#1a1a1a" stroke-width="0.5" stroke-linejoin="round"/>
<path d="M435.3 159.65L438.2 161.20L435.3 162.75Z" fill="#1a1a1a" stroke="#1a1a1a" stroke-width="0.5" stroke-linejoin="round"/>
<path d="M441.3 159.65L444.2 161.20L441.3 162.75Z" fill="#1a1a1a" stroke="#1a1a1a" stroke-width="0.5" stroke-linejoin="round"/>
<rect x="299.50" y="157.60" width="3.50" height="7.20" fill="#1a1a1a" stroke="none" stroke-width="0"/>
<rect x="311.80" y="158.20" width="1.60" height="6.00" fill="#1a1a1a" stroke="none" stroke-width="0"/>
<rect x="313.40" y="153.70" width="2.90" height="15.00" fill="#1a1a1a" stroke="none" stroke-width="0"/>
<rect x="331.00" y="153.70" width="4.80" height="15.00" fill="#1a1a1a" stroke="none" stroke-width="0"/>
<rect x="345.40" y="153.70" width="2.60" height="15.00" fill="#959595" stroke="none" stroke-width="0"/>
<rect x="359.20" y="153.70" width="2.60" height="15.00" fill="#959595" stroke="none" stroke-width="0"/>
<rect x="361.80" y="153.70" width="0.90" height="15.00" fill="#1a1a1a" stroke="none" stroke-width="0"/>
<rect x="378.80" y="153.70" width="2.00" height="15.00" fill="#1a1a1a" stroke="none" stroke-width="0"/>
<rect x="395.40" y="153.70" width="2.30" height="15.00" fill="#1a1a1a" stroke="none" stroke-width="0"/>
<rect x="408.00" y="153.70" width="1.80" height="15.00" fill="#1a1a1a" stroke="none" stroke-width="0"/>
<rect x="415.00" y="153.70" width="2.60" height="15.00" fill="#fff" stroke="#1a1a1a" stroke-width="1.0"/>
<rect x="444.70" y="153.70" width="2.30" height="15.00" fill="#1a1a1a" stroke="none" stroke-width="0"/>
<rect x="447.00" y="157.50" width="2.60" height="7.40" fill="#1a1a1a" stroke="none" stroke-width="0"/>
<line x1="312.00" y1="181.10" x2="416.00" y2="181.10" stroke="#1a1a1a" stroke-width="1.1"/>
<path d="M320.7 179.55L323.6 181.10L320.7 182.65Z" fill="#1a1a1a" stroke="#1a1a1a" stroke-width="0.5" stroke-linejoin="round"/>
<path d="M325.4 179.55L328.3 181.10L325.4 182.65Z" fill="#1a1a1a" stroke="#1a1a1a" stroke-width="0.5" stroke-linejoin="round"/>
<path d="M337.7 179.55L340.6 181.10L337.7 182.65Z" fill="#1a1a1a" stroke="#1a1a1a" stroke-width="0.5" stroke-linejoin="round"/>
<path d="M340.6 179.55L343.5 181.10L340.6 182.65Z" fill="#1a1a1a" stroke="#1a1a1a" stroke-width="0.5" stroke-linejoin="round"/>
<path d="M350.1 179.55L353.0 181.10L350.1 182.65Z" fill="#1a1a1a" stroke="#1a1a1a" stroke-width="0.5" stroke-linejoin="round"/>
<path d="M354.4 179.55L357.3 181.10L354.4 182.65Z" fill="#1a1a1a" stroke="#1a1a1a" stroke-width="0.5" stroke-linejoin="round"/>
<path d="M368.3 179.55L371.2 181.10L368.3 182.65Z" fill="#1a1a1a" stroke="#1a1a1a" stroke-width="0.5" stroke-linejoin="round"/>
<path d="M374.7 179.55L377.6 181.10L374.7 182.65Z" fill="#1a1a1a" stroke="#1a1a1a" stroke-width="0.5" stroke-linejoin="round"/>
<path d="M385.5 179.55L388.4 181.10L385.5 182.65Z" fill="#1a1a1a" stroke="#1a1a1a" stroke-width="0.5" stroke-linejoin="round"/>
<path d="M392.1 179.55L395.0 181.10L392.1 182.65Z" fill="#1a1a1a" stroke="#1a1a1a" stroke-width="0.5" stroke-linejoin="round"/>
<path d="M400.7 179.55L403.6 181.10L400.7 182.65Z" fill="#1a1a1a" stroke="#1a1a1a" stroke-width="0.5" stroke-linejoin="round"/>
<path d="M405.0 179.55L407.9 181.10L405.0 182.65Z" fill="#1a1a1a" stroke="#1a1a1a" stroke-width="0.5" stroke-linejoin="round"/>
<path d="M411.3 179.55L414.2 181.10L411.3 182.65Z" fill="#1a1a1a" stroke="#1a1a1a" stroke-width="0.5" stroke-linejoin="round"/>
<rect x="308.20" y="177.20" width="5.20" height="7.80" fill="#1a1a1a" stroke="none" stroke-width="0"/>
<rect x="313.40" y="173.60" width="2.90" height="15.00" fill="#1a1a1a" stroke="none" stroke-width="0"/>
<rect x="331.00" y="173.60" width="4.80" height="15.00" fill="#1a1a1a" stroke="none" stroke-width="0"/>
<rect x="345.40" y="173.60" width="2.60" height="15.00" fill="#959595" stroke="none" stroke-width="0"/>
<rect x="359.20" y="173.60" width="2.60" height="15.00" fill="#959595" stroke="none" stroke-width="0"/>
<rect x="361.80" y="173.60" width="0.90" height="15.00" fill="#1a1a1a" stroke="none" stroke-width="0"/>
<rect x="378.80" y="173.60" width="2.00" height="15.00" fill="#1a1a1a" stroke="none" stroke-width="0"/>
<rect x="395.40" y="173.60" width="2.30" height="15.00" fill="#1a1a1a" stroke="none" stroke-width="0"/>
<rect x="408.00" y="173.60" width="1.80" height="15.00" fill="#1a1a1a" stroke="none" stroke-width="0"/>
<rect x="415.30" y="173.60" width="5.40" height="15.00" fill="#1a1a1a" stroke="none" stroke-width="0"/>
<rect x="420.70" y="177.30" width="3.80" height="7.60" fill="#1a1a1a" stroke="none" stroke-width="0"/>
<text x="289.6" y="157.0" font-size="4.2" text-anchor="end" fill="#111" stroke="#111" stroke-width="0.092">Isoform 1</text>
<text x="289.6" y="162.1" font-size="4.2" text-anchor="end" fill="#111" stroke="#111" stroke-width="0.092">(downregulated)</text>
<text x="289.6" y="167.5" font-size="4.2" text-anchor="end" fill="#111" stroke="#111" stroke-width="0.092">uc002pbs.1</text>
<text x="289.6" y="177.9" font-size="4.2" text-anchor="end" fill="#111" stroke="#111" stroke-width="0.092">Isoform 2</text>
<text x="289.6" y="183.0" font-size="4.2" text-anchor="end" fill="#111" stroke="#111" stroke-width="0.092">(upregulated)</text>
<text x="289.6" y="188.3" font-size="4.2" text-anchor="end" fill="#111" stroke="#111" stroke-width="0.092">uc002pbv.2</text>
<text x="462.3" y="164.8" font-size="5.1" fill="#111" stroke="#111" stroke-width="0.112">Domain</text>
<rect x="462.70" y="167.50" width="6.10" height="6.10" fill="#8c8c8c" stroke="none" stroke-width="0.9"/>
<text x="470.1" y="172.1" font-size="4.25" fill="#111" stroke="#111" stroke-width="0.093">Rad10</text>
<rect x="462.70" y="175.10" width="6.10" height="6.10" fill="#fff" stroke="#1a1a1a" stroke-width="0.9"/>
<text x="470.1" y="179.7" font-size="4.25" fill="#111" stroke="#111" stroke-width="0.093">HHH</text>
<rect x="292.20" y="194.50" width="165.20" height="130.10" fill="#fff" stroke="none" stroke-width="1"/>
<line x1="318.80" y1="194.50" x2="318.80" y2="324.60" stroke="#f2f2f2" stroke-width="0.5"/>
<line x1="357.40" y1="194.50" x2="357.40" y2="324.60" stroke="#f2f2f2" stroke-width="0.5"/>
<line x1="396.20" y1="194.50" x2="396.20" y2="324.60" stroke="#f2f2f2" stroke-width="0.5"/>
<line x1="434.80" y1="194.50" x2="434.80" y2="324.60" stroke="#f2f2f2" stroke-width="0.5"/>
<line x1="292.20" y1="214.90" x2="457.40" y2="214.90" stroke="#f2f2f2" stroke-width="0.5"/>
<line x1="292.20" y1="244.70" x2="457.40" y2="244.70" stroke="#f2f2f2" stroke-width="0.5"/>
<line x1="292.20" y1="274.50" x2="457.40" y2="274.50" stroke="#f2f2f2" stroke-width="0.5"/>
<line x1="292.20" y1="304.30" x2="457.40" y2="304.30" stroke="#f2f2f2" stroke-width="0.5"/>
<line x1="299.40" y1="194.50" x2="299.40" y2="324.60" stroke="#e6e6e6" stroke-width="0.6"/>
<line x1="338.10" y1="194.50" x2="338.10" y2="324.60" stroke="#e6e6e6" stroke-width="0.6"/>
<line x1="376.80" y1="194.50" x2="376.80" y2="324.60" stroke="#e6e6e6" stroke-width="0.6"/>
<line x1="415.50" y1="194.50" x2="415.50" y2="324.60" stroke="#e6e6e6" stroke-width="0.6"/>
<line x1="454.20" y1="194.50" x2="454.20" y2="324.60" stroke="#e6e6e6" stroke-width="0.6"/>
<line x1="292.20" y1="200.00" x2="457.40" y2="200.00" stroke="#e6e6e6" stroke-width="0.6"/>
<line x1="292.20" y1="229.80" x2="457.40" y2="229.80" stroke="#e6e6e6" stroke-width="0.6"/>
<line x1="292.20" y1="259.60" x2="457.40" y2="259.60" stroke="#e6e6e6" stroke-width="0.6"/>
<line x1="292.20" y1="289.40" x2="457.40" y2="289.40" stroke="#e6e6e6" stroke-width="0.6"/>
<line x1="292.20" y1="319.20" x2="457.40" y2="319.20" stroke="#e6e6e6" stroke-width="0.6"/>
<polyline points="299.4,200.0 301.0,207.0 303.0,214.0 306.4,227.7 309.0,240.0 311.0,250.0 313.0,257.0 322.8,258.7 327.0,264.0 331.0,269.0 334.2,273.4 344.0,274.4 346.0,278.0 348.9,283.2 355.5,284.9 360.4,293.0 365.3,298.0 378.3,299.0 384.0,303.0 389.8,307.7 398.0,313.0 406.1,318.5" fill="none" stroke="#8f8f8f" stroke-width="1.0" stroke-dasharray="1.3 1.5" stroke-linejoin="round"/>
<polyline points="299.4,200.0 302.0,206.0 305.0,213.0 308.0,221.0 311.0,228.0 314.6,234.0 319.0,240.0 324.4,247.0 329.0,252.0 334.2,257.0 339.0,261.0 344.0,265.0 349.0,269.5 353.8,273.4 358.0,277.0 363.6,280.6 368.0,283.0 373.4,285.0 389.8,286.5 399.6,288.0 401.2,298.0 404.0,302.0 407.7,304.5 419.2,306.0 426.0,312.0 433.9,319.0" fill="none" stroke="#1a1a1a" stroke-width="1.25" stroke-dasharray="1.3 1.5" stroke-linejoin="round"/>
<polyline points="299.4,200.0 303.0,200.0 303.0,206.0 306.0,206.0 306.0,211.5 308.6,211.5 308.6,216.2 311.3,216.2 311.3,221.0 313.6,221.0 313.6,224.5 316.0,224.5 316.0,228.0 318.5,228.0 318.5,231.0 321.0,231.0 321.0,234.0 323.5,234.0 323.5,236.8 326.0,236.8 326.0,239.5 328.5,239.5 328.5,241.8 331.0,241.8 331.0,244.0 333.0,244.0 333.0,245.2 335.0,245.2 335.0,246.3 337.0,246.3 337.0,247.5 339.3,247.5 339.3,248.5 341.7,248.5 341.7,249.5 344.0,249.5 344.0,250.5 346.5,250.5 346.5,252.2 349.0,252.2 349.0,254.0 351.4,254.0 351.4,255.5 353.8,255.5 353.8,257.0 357.0,257.0 357.0,260.0 360.4,260.0 360.4,263.6 363.0,263.6 363.0,268.0 365.3,268.0 365.3,271.8 367.4,271.8 367.4,271.9 369.5,271.9 369.5,272.0 371.6,272.0 371.6,272.1 373.7,272.1 373.7,272.2 375.8,272.2 375.8,272.3 377.9,272.3 377.9,272.4 380.0,272.4 380.0,272.5 382.4,272.5 382.4,272.9 384.9,272.9 384.9,273.4 387.3,273.4 387.3,274.6 389.6,274.6 389.6,275.8 392.0,275.8 392.0,277.0 394.5,277.0 394.5,278.2 397.1,278.2 397.1,279.4 399.6,279.4 399.6,280.6 401.6,280.6 401.6,281.7 403.6,281.7 403.6,282.8 405.7,282.8 405.7,283.8 407.7,283.8 407.7,284.9 409.4,284.9 409.4,292.4 433.9,292.4 436.4,292.4 436.4,295.2 438.8,295.2 438.8,298.0 450.0,298.0" fill="none" stroke="#8f8f8f" stroke-width="1.1" stroke-linejoin="round"/>
<polyline points="299.4,200.0 301.2,200.0 301.2,202.0 303.0,202.0 303.0,204.0 304.5,204.0 304.5,206.0 306.0,206.0 306.0,208.0 307.3,208.0 307.3,209.7 308.7,209.7 308.7,211.3 310.0,211.3 310.0,213.0 311.3,213.0 311.3,214.7 312.7,214.7 312.7,216.3 314.0,216.3 314.0,218.0 315.3,218.0 315.3,219.3 316.7,219.3 316.7,220.7 318.0,220.7 318.0,222.0 319.3,222.0 319.3,223.3 320.7,223.3 320.7,224.7 322.0,224.7 322.0,226.0 323.3,226.0 323.3,227.3 324.7,227.3 324.7,228.7 326.0,228.7 326.0,230.0 327.3,230.0 327.3,231.3 328.7,231.3 328.7,232.7 330.0,232.7 330.0,234.0 331.3,234.0 331.3,235.3 332.7,235.3 332.7,236.7 334.0,236.7 334.0,238.0 335.3,238.0 335.3,239.0 336.7,239.0 336.7,240.0 338.0,240.0 338.0,241.0 339.3,241.0 339.3,242.0 340.7,242.0 340.7,243.0 342.0,243.0 342.0,244.0 343.3,244.0 343.3,245.0 344.7,245.0 344.7,246.0 346.0,246.0 346.0,247.0 347.3,247.0 347.3,248.0 348.7,248.0 348.7,249.0 350.0,249.0 350.0,250.0 351.3,250.0 351.3,251.0 352.7,251.0 352.7,252.0 354.0,252.0 354.0,253.0 355.3,253.0 355.3,254.0 356.7,254.0 356.7,255.0 358.0,255.0 358.0,256.0 359.3,256.0 359.3,257.0 360.7,257.0 360.7,258.0 362.0,258.0 362.0,259.0 363.3,259.0 363.3,260.0 364.7,260.0 364.7,261.0 366.0,261.0 366.0,262.0 367.3,262.0 367.3,263.3 368.7,263.3 368.7,264.7 370.0,264.7 370.0,266.0 371.3,266.0 371.3,266.7 372.7,266.7 372.7,267.3 374.0,267.3 374.0,268.0 375.3,268.0 375.3,268.7 376.7,268.7 376.7,269.3 378.0,269.3 378.0,270.0 379.3,270.0 379.3,270.7 380.7,270.7 380.7,271.3 382.0,271.3 382.0,272.0 383.3,272.0 383.3,272.3 384.7,272.3 384.7,272.7 386.0,272.7 386.0,273.0 387.3,273.0 387.3,273.3 388.7,273.3 388.7,273.7 390.0,273.7 390.0,274.0 391.3,274.0 391.3,274.3 392.7,274.3 392.7,274.7 394.0,274.7 394.0,275.0 395.3,275.0 395.3,276.0 396.7,276.0 396.7,277.0 398.0,277.0 398.0,278.0 399.3,278.0 399.3,279.0 400.7,279.0 400.7,280.0 402.0,280.0 402.0,281.0 403.5,281.0 403.5,283.0 405.0,283.0 405.0,285.0 425.0,285.0 426.7,285.0 426.7,286.0 428.3,286.0 428.3,287.0 430.0,287.0 430.0,288.0 431.7,288.0 431.7,288.7 433.3,288.7 433.3,289.3 435.0,289.3 435.0,290.0 437.0,290.0 437.0,295.0 438.6,295.0 438.6,297.6 450.0,297.6" fill="none" stroke="#1a1a1a" stroke-width="0.95" stroke-linejoin="round"/>
<rect x="292.20" y="194.50" width="165.20" height="130.10" fill="none" stroke="#969696" stroke-width="0.9"/>
<line x1="299.40" y1="324.60" x2="299.40" y2="326.60" stroke="#222" stroke-width="0.9"/>
<text x="299.4" y="332.0" font-size="5.8" text-anchor="middle" fill="#111" stroke="#111" stroke-width="0.128">0</text>
<line x1="338.10" y1="324.60" x2="338.10" y2="326.60" stroke="#222" stroke-width="0.9"/>
<text x="338.1" y="332.0" font-size="5.8" text-anchor="middle" fill="#111" stroke="#111" stroke-width="0.128">5</text>
<line x1="376.80" y1="324.60" x2="376.80" y2="326.60" stroke="#222" stroke-width="0.9"/>
<text x="376.8" y="332.0" font-size="5.8" text-anchor="middle" fill="#111" stroke="#111" stroke-width="0.128">10</text>
<line x1="415.50" y1="324.60" x2="415.50" y2="326.60" stroke="#222" stroke-width="0.9"/>
<text x="415.5" y="332.0" font-size="5.8" text-anchor="middle" fill="#111" stroke="#111" stroke-width="0.128">15</text>
<line x1="454.20" y1="324.60" x2="454.20" y2="326.60" stroke="#222" stroke-width="0.9"/>
<text x="454.2" y="332.0" font-size="5.8" text-anchor="middle" fill="#111" stroke="#111" stroke-width="0.128">20</text>
<line x1="290.20" y1="200.00" x2="292.20" y2="200.00" stroke="#222" stroke-width="0.9"/>
<text x="289.4" y="202.05" font-size="5.8" text-anchor="end" fill="#111" stroke="#111" stroke-width="0.128">1.00</text>
<line x1="290.20" y1="229.80" x2="292.20" y2="229.80" stroke="#222" stroke-width="0.9"/>
<text x="289.4" y="231.85" font-size="5.8" text-anchor="end" fill="#111" stroke="#111" stroke-width="0.128">0.75</text>
<line x1="290.20" y1="259.60" x2="292.20" y2="259.60" stroke="#222" stroke-width="0.9"/>
<text x="289.4" y="261.65" font-size="5.8" text-anchor="end" fill="#111" stroke="#111" stroke-width="0.128">0.50</text>
<line x1="290.20" y1="289.40" x2="292.20" y2="289.40" stroke="#222" stroke-width="0.9"/>
<text x="289.4" y="291.45" font-size="5.8" text-anchor="end" fill="#111" stroke="#111" stroke-width="0.128">0.25</text>
<line x1="290.20" y1="319.20" x2="292.20" y2="319.20" stroke="#222" stroke-width="0.9"/>
<text x="289.4" y="321.25" font-size="5.8" text-anchor="end" fill="#111" stroke="#111" stroke-width="0.128">0.00</text>
<text x="376.8" y="338.6" font-size="7.0" text-anchor="middle" fill="#111" stroke="#111" stroke-width="0.154">Years since diagnosis</text>
<text x="273.2" y="259.4" font-size="7.0" text-anchor="middle" fill="#111" stroke="#111" stroke-width="0.154" transform="rotate(-90 273.2 259.4)">Survival probability</text>
<rect x="345.80" y="198.80" width="106.80" height="25.40" fill="#fff" stroke="#333" stroke-width="0.8"/>
<text x="415.8" y="205.6" font-size="5.1" text-anchor="middle" fill="#111" stroke="#111" stroke-width="0.112">No switch</text>
<text x="441.2" y="205.6" font-size="5.1" text-anchor="middle" fill="#111" stroke="#111" stroke-width="0.112">Switch</text>
<text x="398.8" y="213.7" font-size="5.1" text-anchor="end" fill="#111" stroke="#111" stroke-width="0.112">Single cancer (HNSC)</text>
<text x="416.40000000000003" y="213.7" font-size="5.1" text-anchor="middle" fill="#111" stroke="#111" stroke-width="0.112">411</text>
<text x="441.59999999999997" y="213.7" font-size="5.1" text-anchor="middle" fill="#111" stroke="#111" stroke-width="0.112">95</text>
<text x="398.8" y="222.5" font-size="5.1" text-anchor="end" fill="#111" stroke="#111" stroke-width="0.112">Pan cancer</text>
<text x="416.40000000000003" y="222.5" font-size="5.1" text-anchor="middle" fill="#111" stroke="#111" stroke-width="0.112">4141</text>
<text x="441.59999999999997" y="222.5" font-size="5.1" text-anchor="middle" fill="#111" stroke="#111" stroke-width="0.112">1091</text>
<text x="452.6" y="232.4" font-size="5.05" text-anchor="end" fill="#111" stroke="#111" stroke-width="0.111">Pan Cancer P&lt;0.00083</text>
<text x="450.3" y="238.2" font-size="5.05" text-anchor="end" fill="#111" stroke="#111" stroke-width="0.111">Single Cancer P&lt;0.0023</text>
<text x="463.0" y="239.2" font-size="6.35" fill="#111" stroke="#111" stroke-width="0.14">Isoform switch</text>
<line x1="463.40" y1="244.60" x2="469.00" y2="244.60" stroke="#1a1a1a" stroke-width="1.25"/>
<text x="470.9" y="246.39999999999998" font-size="5.05" fill="#111" stroke="#111" stroke-width="0.111">Not detected</text>
<line x1="463.40" y1="252.00" x2="469.00" y2="252.00" stroke="#8f8f8f" stroke-width="1.15"/>
<text x="470.9" y="253.79999999999998" font-size="5.05" fill="#111" stroke="#111" stroke-width="0.111">Detected</text>
<text x="463.0" y="266.2" font-size="6.35" fill="#111" stroke="#111" stroke-width="0.14">Data</text>
<line x1="463.40" y1="271.60" x2="469.00" y2="271.60" stroke="#1a1a1a" stroke-width="1.25"/>
<text x="470.9" y="273.4" font-size="5.05" fill="#111" stroke="#111" stroke-width="0.111">Pan cancer</text>
<line x1="463.60" y1="279.70" x2="469.20" y2="279.70" stroke="#1a1a1a" stroke-width="1.3" stroke-dasharray="1.4 2.6"/>
<text x="470.9" y="278.7" font-size="5.05" fill="#111" stroke="#111" stroke-width="0.111">Single cancer</text>
<text x="470.9" y="284.2" font-size="5.05" fill="#111" stroke="#111" stroke-width="0.111">(HNSC)</text>
<text x="-0.1" y="349.8" font-size="13" font-weight="bold" fill="#000" stroke="#000" stroke-width="0.286">D</text>
<text x="38.6" y="349.6" font-size="7.2" font-weight="bold" fill="#111" stroke="#111" stroke-width="0.158">FAM36A</text>
<rect x="38.60" y="352.10" width="165.00" height="33.70" fill="#fff" stroke="#969696" stroke-width="0.8"/>
<line x1="46.40" y1="352.10" x2="46.40" y2="385.80" stroke="#e6e6e6" stroke-width="0.5"/>
<line x1="85.00" y1="352.10" x2="85.00" y2="385.80" stroke="#e6e6e6" stroke-width="0.5"/>
<line x1="123.60" y1="352.10" x2="123.60" y2="385.80" stroke="#e6e6e6" stroke-width="0.5"/>
<line x1="162.20" y1="352.10" x2="162.20" y2="385.80" stroke="#e6e6e6" stroke-width="0.5"/>
<line x1="200.80" y1="352.10" x2="200.80" y2="385.80" stroke="#e6e6e6" stroke-width="0.5"/>
<line x1="38.60" y1="360.70" x2="203.60" y2="360.70" stroke="#e6e6e6" stroke-width="0.5"/>
<line x1="38.60" y1="380.30" x2="203.60" y2="380.30" stroke="#e6e6e6" stroke-width="0.5"/>
<line x1="46.00" y1="360.70" x2="196.00" y2="360.70" stroke="#1a1a1a" stroke-width="1.1"/>
<path d="M69.3 359.15L72.2 360.70L69.3 362.25Z" fill="#1a1a1a" stroke="#1a1a1a" stroke-width="0.5" stroke-linejoin="round"/>
<path d="M76.9 359.15L79.8 360.70L76.9 362.25Z" fill="#1a1a1a" stroke="#1a1a1a" stroke-width="0.5" stroke-linejoin="round"/>
<path d="M84.5 359.15L87.4 360.70L84.5 362.25Z" fill="#1a1a1a" stroke="#1a1a1a" stroke-width="0.5" stroke-linejoin="round"/>
<path d="M92.3 359.15L95.2 360.70L92.3 362.25Z" fill="#1a1a1a" stroke="#1a1a1a" stroke-width="0.5" stroke-linejoin="round"/>
<path d="M100.0 359.15L102.9 360.70L100.0 362.25Z" fill="#1a1a1a" stroke="#1a1a1a" stroke-width="0.5" stroke-linejoin="round"/>
<path d="M107.5 359.15L110.4 360.70L107.5 362.25Z" fill="#1a1a1a" stroke="#1a1a1a" stroke-width="0.5" stroke-linejoin="round"/>
<path d="M127.1 359.15L130.0 360.70L127.1 362.25Z" fill="#1a1a1a" stroke="#1a1a1a" stroke-width="0.5" stroke-linejoin="round"/>
<path d="M141.5 359.15L144.4 360.70L141.5 362.25Z" fill="#1a1a1a" stroke="#1a1a1a" stroke-width="0.5" stroke-linejoin="round"/>
<path d="M147.6 359.15L150.5 360.70L147.6 362.25Z" fill="#1a1a1a" stroke="#1a1a1a" stroke-width="0.5" stroke-linejoin="round"/>
<path d="M152.3 359.15L155.2 360.70L152.3 362.25Z" fill="#1a1a1a" stroke="#1a1a1a" stroke-width="0.5" stroke-linejoin="round"/>
<rect x="46.00" y="357.20" width="13.40" height="7.00" fill="#1a1a1a" stroke="none" stroke-width="0"/>
<rect x="59.40" y="353.30" width="4.30" height="14.80" fill="#1a1a1a" stroke="none" stroke-width="0"/>
<rect x="117.60" y="353.30" width="6.20" height="14.80" fill="#fff" stroke="#1a1a1a" stroke-width="1.0"/>
<rect x="133.00" y="353.30" width="4.60" height="14.80" fill="#fff" stroke="#1a1a1a" stroke-width="1.0"/>
<rect x="157.20" y="353.30" width="4.60" height="14.80" fill="#fff" stroke="#1a1a1a" stroke-width="1.0"/>
<rect x="161.80" y="353.30" width="5.60" height="14.80" fill="#1a1a1a" stroke="none" stroke-width="0"/>
<rect x="167.40" y="357.10" width="29.00" height="7.20" fill="#1a1a1a" stroke="none" stroke-width="0"/>
<line x1="46.00" y1="380.30" x2="196.00" y2="380.30" stroke="#1a1a1a" stroke-width="1.1"/>
<path d="M69.3 378.75L72.2 380.30L69.3 381.85Z" fill="#1a1a1a" stroke="#1a1a1a" stroke-width="0.5" stroke-linejoin="round"/>
<path d="M76.9 378.75L79.8 380.30L76.9 381.85Z" fill="#1a1a1a" stroke="#1a1a1a" stroke-width="0.5" stroke-linejoin="round"/>
<path d="M84.5 378.75L87.4 380.30L84.5 381.85Z" fill="#1a1a1a" stroke="#1a1a1a" stroke-width="0.5" stroke-linejoin="round"/>
<path d="M92.3 378.75L95.2 380.30L92.3 381.85Z" fill="#1a1a1a" stroke="#1a1a1a" stroke-width="0.5" stroke-linejoin="round"/>
<path d="M100.0 378.75L102.9 380.30L100.0 381.85Z" fill="#1a1a1a" stroke="#1a1a1a" stroke-width="0.5" stroke-linejoin="round"/>
<path d="M107.5 378.75L110.4 380.30L107.5 381.85Z" fill="#1a1a1a" stroke="#1a1a1a" stroke-width="0.5" stroke-linejoin="round"/>
<path d="M114.9 378.75L117.8 380.30L114.9 381.85Z" fill="#1a1a1a" stroke="#1a1a1a" stroke-width="0.5" stroke-linejoin="round"/>
<path d="M122.3 378.75L125.2 380.30L122.3 381.85Z" fill="#1a1a1a" stroke="#1a1a1a" stroke-width="0.5" stroke-linejoin="round"/>
<path d="M127.9 378.75L130.8 380.30L127.9 381.85Z" fill="#1a1a1a" stroke="#1a1a1a" stroke-width="0.5" stroke-linejoin="round"/>
<path d="M141.5 378.75L144.4 380.30L141.5 381.85Z" fill="#1a1a1a" stroke="#1a1a1a" stroke-width="0.5" stroke-linejoin="round"/>
<path d="M147.6 378.75L150.5 380.30L147.6 381.85Z" fill="#1a1a1a" stroke="#1a1a1a" stroke-width="0.5" stroke-linejoin="round"/>
<path d="M152.3 378.75L155.2 380.30L152.3 381.85Z" fill="#1a1a1a" stroke="#1a1a1a" stroke-width="0.5" stroke-linejoin="round"/>
<rect x="46.00" y="376.80" width="17.70" height="7.00" fill="#1a1a1a" stroke="none" stroke-width="0"/>
<rect x="133.00" y="376.70" width="4.60" height="7.20" fill="#1a1a1a" stroke="none" stroke-width="0"/>
<rect x="157.20" y="376.70" width="39.20" height="7.20" fill="#1a1a1a" stroke="none" stroke-width="0"/>
<text x="36.8" y="357.1" font-size="3.9" text-anchor="end" fill="#111" stroke="#111" stroke-width="0.086">Isoform 1</text>
<text x="36.8" y="361.9" font-size="3.9" text-anchor="end" fill="#111" stroke="#111" stroke-width="0.086">uc001saz.2</text>
<text x="36.8" y="366.4" font-size="3.9" text-anchor="end" fill="#111" stroke="#111" stroke-width="0.086">(upregulated)</text>
<text x="36.8" y="376.7" font-size="3.9" text-anchor="end" fill="#111" stroke="#111" stroke-width="0.086">Isoform 2</text>
<text x="36.8" y="381.5" font-size="3.9" text-anchor="end" fill="#111" stroke="#111" stroke-width="0.086">uc001saz.2</text>
<text x="36.8" y="386.1" font-size="3.9" text-anchor="end" fill="#111" stroke="#111" stroke-width="0.086">(downregulated)</text>
<text x="211.5" y="365.8" font-size="5.1" fill="#111" stroke="#111" stroke-width="0.112">Domain</text>
<rect x="211.90" y="368.50" width="6.10" height="6.10" fill="#fff" stroke="#1a1a1a" stroke-width="0.9"/>
<text x="219.3" y="373.1" font-size="4.25" fill="#111" stroke="#111" stroke-width="0.093">DUF3767</text>
<rect x="38.70" y="389.20" width="164.90" height="128.70" fill="#fff" stroke="none" stroke-width="1"/>
<line x1="65.70" y1="389.20" x2="65.70" y2="517.90" stroke="#f2f2f2" stroke-width="0.5"/>
<line x1="104.30" y1="389.20" x2="104.30" y2="517.90" stroke="#f2f2f2" stroke-width="0.5"/>
<line x1="142.90" y1="389.20" x2="142.90" y2="517.90" stroke="#f2f2f2" stroke-width="0.5"/>
<line x1="181.50" y1="389.20" x2="181.50" y2="517.90" stroke="#f2f2f2" stroke-width="0.5"/>
<line x1="38.70" y1="412.00" x2="203.60" y2="412.00" stroke="#f2f2f2" stroke-width="0.5"/>
<line x1="38.70" y1="446.80" x2="203.60" y2="446.80" stroke="#f2f2f2" stroke-width="0.5"/>
<line x1="38.70" y1="481.60" x2="203.60" y2="481.60" stroke="#f2f2f2" stroke-width="0.5"/>
<line x1="38.70" y1="516.40" x2="203.60" y2="516.40" stroke="#f2f2f2" stroke-width="0.5"/>
<line x1="46.40" y1="389.20" x2="46.40" y2="517.90" stroke="#e6e6e6" stroke-width="0.6"/>
<line x1="85.00" y1="389.20" x2="85.00" y2="517.90" stroke="#e6e6e6" stroke-width="0.6"/>
<line x1="123.60" y1="389.20" x2="123.60" y2="517.90" stroke="#e6e6e6" stroke-width="0.6"/>
<line x1="162.20" y1="389.20" x2="162.20" y2="517.90" stroke="#e6e6e6" stroke-width="0.6"/>
<line x1="200.80" y1="389.20" x2="200.80" y2="517.90" stroke="#e6e6e6" stroke-width="0.6"/>
<line x1="38.70" y1="394.60" x2="203.60" y2="394.60" stroke="#e6e6e6" stroke-width="0.6"/>
<line x1="38.70" y1="429.40" x2="203.60" y2="429.40" stroke="#e6e6e6" stroke-width="0.6"/>
<line x1="38.70" y1="464.20" x2="203.60" y2="464.20" stroke="#e6e6e6" stroke-width="0.6"/>
<line x1="38.70" y1="499.00" x2="203.60" y2="499.00" stroke="#e6e6e6" stroke-width="0.6"/>
<polyline points="46.4,394.6 48.0,394.6 48.0,400.0 50.0,400.0 50.0,405.0 53.8,405.0 53.8,415.0 57.5,415.0 57.5,425.0 60.0,425.0 60.0,429.4 62.5,429.4 62.5,433.8 64.6,433.8 64.6,436.7 66.7,436.7 66.7,439.6 68.8,439.6 68.8,442.5 70.8,442.5 70.8,445.2 72.9,445.2 72.9,447.8 75.0,447.8 75.0,450.5 77.5,450.5 77.5,453.0 80.0,453.0 80.0,455.5 82.1,455.5 82.1,457.4 84.2,457.4 84.2,459.3 86.2,459.3 86.2,461.2 90.0,461.2 90.0,467.0 92.2,467.0 92.2,468.4 94.4,468.4 94.4,469.8 96.6,469.8 96.6,471.1 98.8,471.1 98.8,472.5 100.9,472.5 100.9,473.4 103.1,473.4 103.1,474.4 105.3,474.4 105.3,475.3 107.5,475.3 107.5,476.2 110.0,476.2 110.0,478.1 112.5,478.1 112.5,480.0 115.0,480.0 115.0,480.6 117.5,480.6 117.5,481.2 140.0,481.2 141.0,481.2 141.0,485.0 143.5,485.0 143.5,485.5 146.0,485.5 146.0,486.0 149.0,486.0 149.0,491.0 152.5,491.0 152.5,499.0 156.0,499.0 156.0,510.0 157.5,510.0 157.5,512.0 159.8,512.0 159.8,512.1 162.0,512.1 162.0,512.2 164.2,512.2 164.2,512.2 166.5,512.2 166.5,512.3 168.8,512.3 168.8,512.4 171.0,512.4 171.0,512.5" fill="none" stroke="#8f8f8f" stroke-width="1.1" stroke-linejoin="round"/>
<polyline points="46.4,394.6 50.0,397.0 54.0,400.0 60.0,407.5 66.0,415.0 71.0,422.5 76.0,432.5 81.0,441.0 87.5,450.0 92.5,453.8 100.0,457.5 101.0,467.5 105.0,472.5 111.0,475.0 166.0,475.0" fill="none" stroke="#8f8f8f" stroke-width="1.0" stroke-dasharray="1.3 1.5" stroke-linejoin="round"/>
<polyline points="46.4,394.6 52.0,395.5 57.5,397.5 65.0,403.5 72.5,410.0 80.0,414.0 86.0,420.0 92.5,425.0 99.0,431.0 105.0,437.5 110.0,445.0 116.0,448.5 119.5,457.5 120.5,466.0 124.0,470.0 128.0,473.0 134.0,473.5 136.0,476.0 142.0,478.0 144.0,485.0 178.0,485.0 182.0,492.0 185.0,501.5 198.0,501.5" fill="none" stroke="#1a1a1a" stroke-width="1.25" stroke-dasharray="1.3 1.5" stroke-linejoin="round"/>
<polyline points="46.4,394.6 48.2,394.6 48.2,396.8 50.0,396.8 50.0,399.0 51.9,399.0 51.9,401.4 53.8,401.4 53.8,403.8 55.6,403.8 55.6,405.9 57.5,405.9 57.5,408.0 59.4,408.0 59.4,410.2 61.2,410.2 61.2,412.5 63.1,412.5 63.1,415.0 65.0,415.0 65.0,417.5 66.9,417.5 66.9,420.0 68.8,420.0 68.8,422.5 70.4,422.5 70.4,424.5 72.0,424.5 72.0,426.5 73.5,426.5 73.5,428.2 75.0,428.2 75.0,430.0 76.8,430.0 76.8,432.0 78.5,432.0 78.5,434.0 79.8,434.0 79.8,435.6 81.2,435.6 81.2,437.2 82.5,437.2 82.5,438.8 84.2,438.8 84.2,440.4 86.0,440.4 86.0,442.0 87.3,442.0 87.3,443.0 88.7,443.0 88.7,444.0 90.0,444.0 90.0,445.0 91.5,445.0 91.5,446.5 93.0,446.5 93.0,448.0 94.6,448.0 94.6,449.6 96.2,449.6 96.2,451.2 97.6,451.2 97.6,452.6 99.0,452.6 99.0,454.0 100.8,454.0 100.8,455.8 102.5,455.8 102.5,457.5 105.0,457.5 105.0,459.5 106.8,459.5 106.8,460.8 108.5,460.8 108.5,462.0 109.8,462.0 109.8,463.2 111.2,463.2 111.2,464.3 112.5,464.3 112.5,465.5 114.2,465.5 114.2,467.0 116.0,467.0 116.0,468.5 117.3,468.5 117.3,469.8 118.7,469.8 118.7,471.2 120.0,471.2 120.0,472.5 121.7,472.5 121.7,473.8 123.3,473.8 123.3,475.2 125.0,475.2 125.0,476.5 126.7,476.5 126.7,477.7 128.3,477.7 128.3,478.8 130.0,478.8 130.0,480.0 131.5,480.0 131.5,480.2 133.0,480.2 133.0,480.5 134.5,480.5 134.5,480.8 136.0,480.8 136.0,481.0 137.5,481.0 137.5,481.2 138.8,481.2 138.8,485.0 140.3,485.0 140.3,485.3 141.9,485.3 141.9,485.6 143.4,485.6 143.4,485.9 145.0,485.9 145.0,486.2 147.5,486.2 147.5,490.0 150.0,490.0 150.0,491.2 151.2,491.2 151.2,492.5 167.5,492.5 169.1,492.5 169.1,493.1 170.6,493.1 170.6,493.8 172.2,493.8 172.2,494.4 173.8,494.4 173.8,495.0 175.2,495.0 175.2,495.4 176.6,495.4 176.6,495.7 178.0,495.7 178.0,496.1 179.5,496.1 179.5,496.4 180.9,496.4 180.9,496.8 182.3,496.8 182.3,497.1 183.8,497.1 183.8,497.5 185.0,497.5 185.0,507.0 196.2,507.0" fill="none" stroke="#1a1a1a" stroke-width="0.95" stroke-linejoin="round"/>
<rect x="38.70" y="389.20" width="164.90" height="128.70" fill="none" stroke="#969696" stroke-width="0.9"/>
<line x1="46.40" y1="517.90" x2="46.40" y2="519.90" stroke="#222" stroke-width="0.9"/>
<text x="46.4" y="525.3" font-size="5.9" text-anchor="middle" fill="#111" stroke="#111" stroke-width="0.13">0</text>
<line x1="85.00" y1="517.90" x2="85.00" y2="519.90" stroke="#222" stroke-width="0.9"/>
<text x="85.0" y="525.3" font-size="5.9" text-anchor="middle" fill="#111" stroke="#111" stroke-width="0.13">5</text>
<line x1="123.60" y1="517.90" x2="123.60" y2="519.90" stroke="#222" stroke-width="0.9"/>
<text x="123.6" y="525.3" font-size="5.9" text-anchor="middle" fill="#111" stroke="#111" stroke-width="0.13">10</text>
<line x1="162.20" y1="517.90" x2="162.20" y2="519.90" stroke="#222" stroke-width="0.9"/>
<text x="162.2" y="525.3" font-size="5.9" text-anchor="middle" fill="#111" stroke="#111" stroke-width="0.13">15</text>
<line x1="200.80" y1="517.90" x2="200.80" y2="519.90" stroke="#222" stroke-width="0.9"/>
<text x="200.8" y="525.3" font-size="5.9" text-anchor="middle" fill="#111" stroke="#111" stroke-width="0.13">20</text>
<line x1="36.70" y1="394.60" x2="38.70" y2="394.60" stroke="#222" stroke-width="0.9"/>
<text x="36.4" y="396.65" font-size="5.9" text-anchor="end" fill="#111" stroke="#111" stroke-width="0.13">1.00</text>
<line x1="36.70" y1="429.40" x2="38.70" y2="429.40" stroke="#222" stroke-width="0.9"/>
<text x="36.4" y="431.45" font-size="5.9" text-anchor="end" fill="#111" stroke="#111" stroke-width="0.13">0.75</text>
<line x1="36.70" y1="464.20" x2="38.70" y2="464.20" stroke="#222" stroke-width="0.9"/>
<text x="36.4" y="466.25" font-size="5.9" text-anchor="end" fill="#111" stroke="#111" stroke-width="0.13">0.50</text>
<line x1="36.70" y1="499.00" x2="38.70" y2="499.00" stroke="#222" stroke-width="0.9"/>
<text x="36.4" y="501.05" font-size="5.9" text-anchor="end" fill="#111" stroke="#111" stroke-width="0.13">0.25</text>
<text x="123.2" y="531.1" font-size="7.0" text-anchor="middle" fill="#111" stroke="#111" stroke-width="0.154">Years since diagnosis</text>
<text x="19.7" y="453.5" font-size="7.0" text-anchor="middle" fill="#111" stroke="#111" stroke-width="0.154" transform="rotate(-90 19.7 453.5)">Survival probability</text>
<rect x="92.60" y="392.20" width="106.90" height="24.30" fill="#fff" stroke="#333" stroke-width="0.8"/>
<text x="162.5" y="398.2" font-size="5.1" text-anchor="middle" fill="#111" stroke="#111" stroke-width="0.112">No switch</text>
<text x="187.6" y="398.2" font-size="5.1" text-anchor="middle" fill="#111" stroke="#111" stroke-width="0.112">Switch</text>
<text x="145.0" y="406.3" font-size="5.1" text-anchor="end" fill="#111" stroke="#111" stroke-width="0.112">Single cancer (BRCA)</text>
<text x="163.1" y="406.3" font-size="5.1" text-anchor="middle" fill="#111" stroke="#111" stroke-width="0.112">991</text>
<text x="188.0" y="406.3" font-size="5.1" text-anchor="middle" fill="#111" stroke="#111" stroke-width="0.112">50</text>
<text x="145.2" y="414.8" font-size="5.1" text-anchor="end" fill="#111" stroke="#111" stroke-width="0.112">Pan cancer</text>
<text x="163.1" y="414.8" font-size="5.1" text-anchor="middle" fill="#111" stroke="#111" stroke-width="0.112">4141</text>
<text x="188.0" y="414.8" font-size="5.1" text-anchor="middle" fill="#111" stroke="#111" stroke-width="0.112">1091</text>
<text x="200.0" y="425.2" font-size="5.05" text-anchor="end" fill="#111" stroke="#111" stroke-width="0.111">Pan Cancer P&lt;0.000001</text>
<text x="190.7" y="431.0" font-size="5.05" text-anchor="end" fill="#111" stroke="#111" stroke-width="0.111">Single Cancer P&lt;0.010</text>
<text x="211.4" y="431.6" font-size="6.35" fill="#111" stroke="#111" stroke-width="0.14">Isoform switch</text>
<line x1="211.80" y1="437.00" x2="217.40" y2="437.00" stroke="#1a1a1a" stroke-width="1.25"/>
<text x="219.3" y="438.8" font-size="5.05" fill="#111" stroke="#111" stroke-width="0.111">Not detected</text>
<line x1="211.80" y1="444.40" x2="217.40" y2="444.40" stroke="#8f8f8f" stroke-width="1.15"/>
<text x="219.3" y="446.20000000000005" font-size="5.05" fill="#111" stroke="#111" stroke-width="0.111">Detected</text>
<text x="211.4" y="462.1" font-size="6.35" fill="#111" stroke="#111" stroke-width="0.14">Data</text>
<line x1="211.80" y1="467.50" x2="217.40" y2="467.50" stroke="#1a1a1a" stroke-width="1.25"/>
<text x="219.3" y="469.3" font-size="5.05" fill="#111" stroke="#111" stroke-width="0.111">Pan Cancer</text>
<line x1="212.00" y1="475.60" x2="217.60" y2="475.60" stroke="#1a1a1a" stroke-width="1.3" stroke-dasharray="1.4 2.6"/>
<text x="219.3" y="474.6" font-size="5.05" fill="#111" stroke="#111" stroke-width="0.111">Single Cancer</text>
<text x="219.3" y="480.1" font-size="5.05" fill="#111" stroke="#111" stroke-width="0.111">(BRCA)</text>
<text x="260.6" y="349.8" font-size="13" font-weight="bold" fill="#000" stroke="#000" stroke-width="0.286">E</text>
<text x="291.2" y="350.0" font-size="7.2" font-weight="bold" fill="#111" stroke="#111" stroke-width="0.158">FAM36A</text>
<rect x="292.40" y="352.00" width="164.00" height="164.00" fill="#fff" stroke="none" stroke-width="1"/>
<line x1="318.50" y1="352.00" x2="318.50" y2="516.00" stroke="#f2f2f2" stroke-width="0.5"/>
<line x1="356.80" y1="352.00" x2="356.80" y2="516.00" stroke="#f2f2f2" stroke-width="0.5"/>
<line x1="395.10" y1="352.00" x2="395.10" y2="516.00" stroke="#f2f2f2" stroke-width="0.5"/>
<line x1="433.40" y1="352.00" x2="433.40" y2="516.00" stroke="#f2f2f2" stroke-width="0.5"/>
<line x1="292.40" y1="380.00" x2="456.40" y2="380.00" stroke="#f2f2f2" stroke-width="0.5"/>
<line x1="292.40" y1="422.50" x2="456.40" y2="422.50" stroke="#f2f2f2" stroke-width="0.5"/>
<line x1="292.40" y1="465.00" x2="456.40" y2="465.00" stroke="#f2f2f2" stroke-width="0.5"/>
<line x1="292.40" y1="507.50" x2="456.40" y2="507.50" stroke="#f2f2f2" stroke-width="0.5"/>
<line x1="299.40" y1="352.00" x2="299.40" y2="516.00" stroke="#e6e6e6" stroke-width="0.6"/>
<line x1="337.70" y1="352.00" x2="337.70" y2="516.00" stroke="#e6e6e6" stroke-width="0.6"/>
<line x1="376.00" y1="352.00" x2="376.00" y2="516.00" stroke="#e6e6e6" stroke-width="0.6"/>
<line x1="414.30" y1="352.00" x2="414.30" y2="516.00" stroke="#e6e6e6" stroke-width="0.6"/>
<line x1="452.60" y1="352.00" x2="452.60" y2="516.00" stroke="#e6e6e6" stroke-width="0.6"/>
<line x1="292.40" y1="358.80" x2="456.40" y2="358.80" stroke="#e6e6e6" stroke-width="0.6"/>
<line x1="292.40" y1="401.30" x2="456.40" y2="401.30" stroke="#e6e6e6" stroke-width="0.6"/>
<line x1="292.40" y1="443.80" x2="456.40" y2="443.80" stroke="#e6e6e6" stroke-width="0.6"/>
<line x1="292.40" y1="486.30" x2="456.40" y2="486.30" stroke="#e6e6e6" stroke-width="0.6"/>
<polyline points="299.4,358.8 301.5,367.0 303.8,375.0 307.5,390.0 311.2,402.5 315.0,412.5 320.0,422.5 323.8,431.2 327.5,441.0 332.5,447.5 340.0,452.5 347.5,457.5 355.0,462.5 360.0,468.8 365.0,469.5 398.0,469.5 401.0,476.0 405.0,485.0 408.8,500.0 411.2,507.5 419.0,508.5" fill="none" stroke="#8f8f8f" stroke-width="1.1" stroke-dasharray="3 2" stroke-linejoin="round"/>
<polyline points="299.4,358.8 302.0,358.8 302.0,365.0 305.0,365.0 305.0,372.5 307.5,372.5 307.5,378.8 310.0,378.8 310.0,385.0 312.5,385.0 312.5,389.4 315.0,389.4 315.0,393.8 318.0,393.8 318.0,398.8 321.0,398.8 321.0,403.8 324.2,403.8 324.2,409.4 327.5,409.4 327.5,415.0 330.0,415.0 330.0,418.8 332.5,418.8 332.5,422.5 335.6,422.5 335.6,425.6 338.8,425.6 338.8,428.8 340.0,428.8 340.0,435.0 342.5,435.0 342.5,437.5 345.0,437.5 345.0,440.0 347.5,440.0 347.5,441.9 350.0,441.9 350.0,443.8 353.0,443.8 353.0,444.0 356.0,444.0 356.0,444.3 358.4,444.3 358.4,445.0 360.9,445.0 360.9,445.8 363.3,445.8 363.3,446.5 364.9,446.5 364.9,456.6 367.4,456.6 367.4,459.1 369.8,459.1 369.8,461.5 372.5,461.5 372.5,461.6 375.2,461.6 375.2,461.7 377.9,461.7 377.9,461.8 380.6,461.8 380.6,461.8 383.3,461.8 383.3,461.9 386.0,461.9 386.0,462.0 388.5,462.0 388.5,463.4 391.0,463.4 391.0,464.7 394.3,464.7 394.3,476.0 397.6,476.0 397.6,492.5 399.2,492.5 399.2,494.5 423.7,494.5" fill="none" stroke="#444" stroke-width="1.05" stroke-dasharray="1.3 0.55" stroke-linejoin="round"/>
<polyline points="299.4,358.8 301.2,358.8 301.2,361.9 303.0,361.9 303.0,365.0 304.3,365.0 304.3,367.3 305.7,367.3 305.7,369.7 307.0,369.7 307.0,372.0 308.3,372.0 308.3,374.0 309.7,374.0 309.7,376.0 311.0,376.0 311.0,378.0 312.3,378.0 312.3,380.0 313.7,380.0 313.7,382.0 315.0,382.0 315.0,384.0 316.3,384.0 316.3,386.0 317.7,386.0 317.7,388.0 319.0,388.0 319.0,390.0 320.3,390.0 320.3,392.0 321.7,392.0 321.7,394.0 323.0,394.0 323.0,396.0 324.3,396.0 324.3,397.7 325.7,397.7 325.7,399.3 327.0,399.3 327.0,401.0 328.3,401.0 328.3,402.7 329.7,402.7 329.7,404.3 331.0,404.3 331.0,406.0 332.3,406.0 332.3,407.7 333.7,407.7 333.7,409.3 335.0,409.3 335.0,411.0 336.3,411.0 336.3,412.3 337.7,412.3 337.7,413.7 339.0,413.7 339.0,415.0 340.3,415.0 340.3,416.7 341.7,416.7 341.7,418.3 343.0,418.3 343.0,420.0 344.3,420.0 344.3,421.7 345.7,421.7 345.7,423.3 347.0,423.3 347.0,425.0 348.3,425.0 348.3,426.7 349.7,426.7 349.7,428.3 351.0,428.3 351.0,430.0 352.3,430.0 352.3,431.7 353.7,431.7 353.7,433.3 355.0,433.3 355.0,435.0 356.3,435.0 356.3,436.7 357.7,436.7 357.7,438.3 359.0,438.3 359.0,440.0 360.3,440.0 360.3,441.7 361.7,441.7 361.7,443.3 363.0,443.3 363.0,445.0 364.3,445.0 364.3,446.3 365.7,446.3 365.7,447.7 367.0,447.7 367.0,449.0 368.3,449.0 368.3,450.3 369.7,450.3 369.7,451.7 371.0,451.7 371.0,453.0 372.3,453.0 372.3,454.0 373.7,454.0 373.7,455.0 375.0,455.0 375.0,456.0 376.3,456.0 376.3,457.3 377.7,457.3 377.7,458.7 379.0,458.7 379.0,460.0 380.3,460.0 380.3,461.0 381.7,461.0 381.7,462.0 383.0,462.0 383.0,463.0 384.3,463.0 384.3,463.7 385.7,463.7 385.7,464.3 387.0,464.3 387.0,465.0 388.3,465.0 388.3,465.7 389.7,465.7 389.7,466.3 391.0,466.3 391.0,467.0 392.3,467.0 392.3,467.7 393.7,467.7 393.7,468.3 395.0,468.3 395.0,469.0 396.3,469.0 396.3,470.0 397.7,470.0 397.7,471.0 399.0,471.0 399.0,472.0 400.5,472.0 400.5,473.5 402.0,473.5 402.0,475.0 404.0,475.0 404.0,477.0 421.0,477.0 422.4,477.0 422.4,477.6 423.8,477.6 423.8,478.2 425.2,478.2 425.2,478.8 426.6,478.8 426.6,479.4 428.0,479.4 428.0,480.0 429.3,480.0 429.3,480.5 430.7,480.5 430.7,481.0 432.0,481.0 432.0,481.5 433.3,481.5 433.3,482.0 434.7,482.0 434.7,482.5 436.0,482.5 436.0,483.0 437.0,483.0 437.0,488.0 438.0,488.0 438.0,495.0 449.0,495.0" fill="none" stroke="#1a1a1a" stroke-width="0.95" stroke-linejoin="round"/>
<rect x="292.40" y="352.00" width="164.00" height="164.00" fill="none" stroke="#969696" stroke-width="0.9"/>
<line x1="299.40" y1="516.00" x2="299.40" y2="518.00" stroke="#222" stroke-width="0.9"/>
<text x="299.4" y="522.9" font-size="5.8" text-anchor="middle" fill="#111" stroke="#111" stroke-width="0.128">0</text>
<line x1="337.70" y1="516.00" x2="337.70" y2="518.00" stroke="#222" stroke-width="0.9"/>
<text x="337.7" y="522.9" font-size="5.8" text-anchor="middle" fill="#111" stroke="#111" stroke-width="0.128">5</text>
<line x1="376.00" y1="516.00" x2="376.00" y2="518.00" stroke="#222" stroke-width="0.9"/>
<text x="376.0" y="522.9" font-size="5.8" text-anchor="middle" fill="#111" stroke="#111" stroke-width="0.128">10</text>
<line x1="414.30" y1="516.00" x2="414.30" y2="518.00" stroke="#222" stroke-width="0.9"/>
<text x="414.3" y="522.9" font-size="5.8" text-anchor="middle" fill="#111" stroke="#111" stroke-width="0.128">15</text>
<line x1="452.60" y1="516.00" x2="452.60" y2="518.00" stroke="#222" stroke-width="0.9"/>
<text x="452.6" y="522.9" font-size="5.8" text-anchor="middle" fill="#111" stroke="#111" stroke-width="0.128">20</text>
<line x1="290.40" y1="358.80" x2="292.40" y2="358.80" stroke="#222" stroke-width="0.9"/>
<text x="288.2" y="360.85" font-size="5.8" text-anchor="end" fill="#111" stroke="#111" stroke-width="0.128">1.00</text>
<line x1="290.40" y1="401.30" x2="292.40" y2="401.30" stroke="#222" stroke-width="0.9"/>
<text x="288.2" y="403.35" font-size="5.8" text-anchor="end" fill="#111" stroke="#111" stroke-width="0.128">0.75</text>
<line x1="290.40" y1="443.80" x2="292.40" y2="443.80" stroke="#222" stroke-width="0.9"/>
<text x="288.2" y="445.85" font-size="5.8" text-anchor="end" fill="#111" stroke="#111" stroke-width="0.128">0.50</text>
<line x1="290.40" y1="486.30" x2="292.40" y2="486.30" stroke="#222" stroke-width="0.9"/>
<text x="288.2" y="488.35" font-size="5.8" text-anchor="end" fill="#111" stroke="#111" stroke-width="0.128">0.25</text>
<text x="377.5" y="532.0" font-size="7.15" text-anchor="middle" fill="#111" stroke="#111" stroke-width="0.157">Years since diagnosis</text>
<text x="273.1" y="430.3" font-size="7.15" text-anchor="middle" fill="#111" stroke="#111" stroke-width="0.157" transform="rotate(-90 273.1 430.3)">Survival probability</text>
<text x="452.5" y="360.7" font-size="5.4" text-anchor="end" fill="#111" stroke="#111" stroke-width="0.119">Small Switches: P = 1.7e–02</text>
<text x="452.5" y="368.9" font-size="5.4" text-anchor="end" fill="#111" stroke="#111" stroke-width="0.119">Large Switches: P = 2.0e–06</text>
<text x="452.5" y="376.9" font-size="5.4" text-anchor="end" fill="#111" stroke="#111" stroke-width="0.119">All Switches: P = 1.0e–06</text>
<text x="459.7" y="420.5" font-size="6.3" fill="#111" stroke="#111" stroke-width="0.139">Isoform switch</text>
<line x1="462.40" y1="427.60" x2="469.50" y2="427.60" stroke="#1a1a1a" stroke-width="1.3"/>
<text x="472.2" y="429.9" font-size="6.3" fill="#111" stroke="#111" stroke-width="0.139">None (<tspan font-style="italic">n</tspan> = 1,845)</text>
<line x1="462.40" y1="436.70" x2="469.50" y2="436.70" stroke="#444" stroke-width="1.05" stroke-dasharray="1.3 0.55"/>
<text x="472.2" y="439.0" font-size="6.3" fill="#111" stroke="#111" stroke-width="0.139">Small (<tspan font-style="italic">n</tspan> = 455)</text>
<line x1="462.40" y1="445.80" x2="469.50" y2="445.80" stroke="#8f8f8f" stroke-width="1.0" stroke-dasharray="2.6 2"/>
<text x="472.2" y="448.1" font-size="6.3" fill="#111" stroke="#111" stroke-width="0.139">Large (<tspan font-style="italic">n</tspan> = 466)</text>
<text x="0.2" y="545.6" font-size="13" font-weight="bold" fill="#000" stroke="#000" stroke-width="0.286">F</text>
<text x="40.3" y="542.6" font-size="7.0" font-weight="bold" fill="#111" stroke="#111" stroke-width="0.154">SHC1</text>
<rect x="41.00" y="544.30" width="164.20" height="29.00" fill="#fff" stroke="#969696" stroke-width="0.8"/>
<line x1="48.40" y1="544.30" x2="48.40" y2="573.30" stroke="#e6e6e6" stroke-width="0.5"/>
<line x1="86.80" y1="544.30" x2="86.80" y2="573.30" stroke="#e6e6e6" stroke-width="0.5"/>
<line x1="125.20" y1="544.30" x2="125.20" y2="573.30" stroke="#e6e6e6" stroke-width="0.5"/>
<line x1="163.60" y1="544.30" x2="163.60" y2="573.30" stroke="#e6e6e6" stroke-width="0.5"/>
<line x1="202.00" y1="544.30" x2="202.00" y2="573.30" stroke="#e6e6e6" stroke-width="0.5"/>
<line x1="41.00" y1="551.30" x2="205.20" y2="551.30" stroke="#e6e6e6" stroke-width="0.5"/>
<line x1="41.00" y1="565.90" x2="205.20" y2="565.90" stroke="#e6e6e6" stroke-width="0.5"/>
<line x1="76.00" y1="551.30" x2="197.00" y2="551.30" stroke="#1a1a1a" stroke-width="1.1"/>
<path d="M135.7 549.75L138.6 551.30L135.7 552.85Z" fill="#1a1a1a" stroke="#1a1a1a" stroke-width="0.5" stroke-linejoin="round"/>
<path d="M139.2 549.75L142.1 551.30L139.2 552.85Z" fill="#1a1a1a" stroke="#1a1a1a" stroke-width="0.5" stroke-linejoin="round"/>
<path d="M173.8 549.75L176.7 551.30L173.8 552.85Z" fill="#1a1a1a" stroke="#1a1a1a" stroke-width="0.5" stroke-linejoin="round"/>
<path d="M178.1 549.75L181.0 551.30L178.1 552.85Z" fill="#1a1a1a" stroke="#1a1a1a" stroke-width="0.5" stroke-linejoin="round"/>
<rect x="71.20" y="548.70" width="5.20" height="5.20" fill="#1a1a1a" stroke="none" stroke-width="0"/>
<rect x="76.40" y="545.70" width="8.60" height="11.20" fill="#1a1a1a" stroke="none" stroke-width="0"/>
<rect x="93.00" y="545.90" width="2.40" height="10.80" fill="#fff" stroke="#1a1a1a" stroke-width="1.0"/>
<rect x="102.30" y="545.90" width="2.30" height="10.80" fill="#fff" stroke="#1a1a1a" stroke-width="1.0"/>
<rect x="109.00" y="545.90" width="2.50" height="10.80" fill="#fff" stroke="#1a1a1a" stroke-width="1.0"/>
<rect x="116.20" y="545.90" width="2.20" height="10.80" fill="#fff" stroke="#1a1a1a" stroke-width="1.0"/>
<rect x="122.20" y="545.90" width="2.40" height="10.80" fill="#fff" stroke="#1a1a1a" stroke-width="1.0"/>
<rect x="129.40" y="545.90" width="2.60" height="10.80" fill="#fff" stroke="#1a1a1a" stroke-width="1.0"/>
<rect x="144.30" y="545.90" width="3.50" height="10.80" fill="#1a1a1a" stroke="none" stroke-width="0"/>
<rect x="151.40" y="545.90" width="1.70" height="10.80" fill="#1a1a1a" stroke="none" stroke-width="0"/>
<rect x="156.40" y="545.90" width="2.80" height="10.80" fill="#1a1a1a" stroke="none" stroke-width="0"/>
<rect x="163.80" y="545.90" width="2.30" height="10.80" fill="#1a1a1a" stroke="none" stroke-width="0"/>
<rect x="166.10" y="545.90" width="3.50" height="10.80" fill="#959595" stroke="none" stroke-width="0"/>
<rect x="182.90" y="545.90" width="1.70" height="10.80" fill="#959595" stroke="none" stroke-width="0"/>
<rect x="184.60" y="545.90" width="2.60" height="10.80" fill="#1a1a1a" stroke="none" stroke-width="0"/>
<rect x="187.20" y="548.60" width="10.70" height="5.40" fill="#1a1a1a" stroke="none" stroke-width="0"/>
<line x1="52.00" y1="565.90" x2="197.00" y2="565.90" stroke="#1a1a1a" stroke-width="1.1"/>
<path d="M57.1 564.35L60.0 565.90L57.1 567.45Z" fill="#1a1a1a" stroke="#1a1a1a" stroke-width="0.5" stroke-linejoin="round"/>
<path d="M64.0 564.35L66.9 565.90L64.0 567.45Z" fill="#1a1a1a" stroke="#1a1a1a" stroke-width="0.5" stroke-linejoin="round"/>
<path d="M71.0 564.35L73.9 565.90L71.0 567.45Z" fill="#1a1a1a" stroke="#1a1a1a" stroke-width="0.5" stroke-linejoin="round"/>
<path d="M77.1 564.35L80.0 565.90L77.1 567.45Z" fill="#1a1a1a" stroke="#1a1a1a" stroke-width="0.5" stroke-linejoin="round"/>
<path d="M135.7 564.35L138.6 565.90L135.7 567.45Z" fill="#1a1a1a" stroke="#1a1a1a" stroke-width="0.5" stroke-linejoin="round"/>
<path d="M139.2 564.35L142.1 565.90L139.2 567.45Z" fill="#1a1a1a" stroke="#1a1a1a" stroke-width="0.5" stroke-linejoin="round"/>
<path d="M173.8 564.35L176.7 565.90L173.8 567.45Z" fill="#1a1a1a" stroke="#1a1a1a" stroke-width="0.5" stroke-linejoin="round"/>
<path d="M178.1 564.35L181.0 565.90L178.1 567.45Z" fill="#1a1a1a" stroke="#1a1a1a" stroke-width="0.5" stroke-linejoin="round"/>
<rect x="48.40" y="563.10" width="4.00" height="5.60" fill="#1a1a1a" stroke="none" stroke-width="0"/>
<rect x="80.90" y="560.30" width="4.10" height="11.20" fill="#1a1a1a" stroke="none" stroke-width="0"/>
<rect x="93.00" y="560.50" width="2.40" height="10.80" fill="#fff" stroke="#1a1a1a" stroke-width="1.0"/>
<rect x="102.30" y="560.50" width="2.30" height="10.80" fill="#fff" stroke="#1a1a1a" stroke-width="1.0"/>
<rect x="109.00" y="560.50" width="2.50" height="10.80" fill="#fff" stroke="#1a1a1a" stroke-width="1.0"/>
<rect x="116.20" y="560.50" width="2.20" height="10.80" fill="#fff" stroke="#1a1a1a" stroke-width="1.0"/>
<rect x="122.20" y="560.50" width="2.40" height="10.80" fill="#fff" stroke="#1a1a1a" stroke-width="1.0"/>
<rect x="129.40" y="560.50" width="2.60" height="10.80" fill="#fff" stroke="#1a1a1a" stroke-width="1.0"/>
<rect x="144.30" y="560.50" width="3.50" height="10.80" fill="#1a1a1a" stroke="none" stroke-width="0"/>
<rect x="151.40" y="560.50" width="1.70" height="10.80" fill="#1a1a1a" stroke="none" stroke-width="0"/>
<rect x="156.40" y="560.50" width="2.80" height="10.80" fill="#1a1a1a" stroke="none" stroke-width="0"/>
<rect x="163.80" y="560.50" width="2.30" height="10.80" fill="#1a1a1a" stroke="none" stroke-width="0"/>
<rect x="166.10" y="560.50" width="3.50" height="10.80" fill="#959595" stroke="none" stroke-width="0"/>
<rect x="182.90" y="560.50" width="1.70" height="10.80" fill="#959595" stroke="none" stroke-width="0"/>
<rect x="184.60" y="560.50" width="2.60" height="10.80" fill="#1a1a1a" stroke="none" stroke-width="0"/>
<rect x="187.20" y="563.20" width="10.70" height="5.40" fill="#1a1a1a" stroke="none" stroke-width="0"/>
<text x="39.3" y="547.4" font-size="4.2" text-anchor="end" fill="#111" stroke="#111" stroke-width="0.092">Isoform 1</text>
<text x="39.3" y="552.7" font-size="4.2" text-anchor="end" fill="#111" stroke="#111" stroke-width="0.092">(upregulated)</text>
<text x="39.3" y="558.5" font-size="4.2" text-anchor="end" fill="#111" stroke="#111" stroke-width="0.092">uc001ffw.2</text>
<text x="38.9" y="565.7" font-size="4.2" text-anchor="end" fill="#111" stroke="#111" stroke-width="0.092">Isoform 2</text>
<text x="38.9" y="570.5" font-size="4.2" text-anchor="end" fill="#111" stroke="#111" stroke-width="0.092">(downregulated)</text>
<text x="38.9" y="576.3" font-size="4.2" text-anchor="end" fill="#111" stroke="#111" stroke-width="0.092">uc001ffx.2</text>
<text x="209.3" y="552.2" font-size="5.1" fill="#111" stroke="#111" stroke-width="0.112">Domain</text>
<rect x="209.70" y="554.90" width="6.10" height="6.10" fill="#8c8c8c" stroke="none" stroke-width="0.9"/>
<text x="217.1" y="559.5" font-size="4.25" fill="#111" stroke="#111" stroke-width="0.093">SH2</text>
<rect x="209.70" y="562.50" width="6.10" height="6.10" fill="#fff" stroke="#1a1a1a" stroke-width="0.9"/>
<text x="217.1" y="567.1" font-size="4.25" fill="#111" stroke="#111" stroke-width="0.093">PID</text>
<rect x="41.00" y="576.30" width="164.20" height="130.50" fill="#fff" stroke="none" stroke-width="1"/>
<line x1="67.60" y1="576.30" x2="67.60" y2="706.80" stroke="#f2f2f2" stroke-width="0.5"/>
<line x1="106.00" y1="576.30" x2="106.00" y2="706.80" stroke="#f2f2f2" stroke-width="0.5"/>
<line x1="144.40" y1="576.30" x2="144.40" y2="706.80" stroke="#f2f2f2" stroke-width="0.5"/>
<line x1="182.80" y1="576.30" x2="182.80" y2="706.80" stroke="#f2f2f2" stroke-width="0.5"/>
<line x1="41.00" y1="600.60" x2="205.20" y2="600.60" stroke="#f2f2f2" stroke-width="0.5"/>
<line x1="41.00" y1="636.60" x2="205.20" y2="636.60" stroke="#f2f2f2" stroke-width="0.5"/>
<line x1="41.00" y1="672.60" x2="205.20" y2="672.60" stroke="#f2f2f2" stroke-width="0.5"/>
<line x1="48.40" y1="576.30" x2="48.40" y2="706.80" stroke="#e6e6e6" stroke-width="0.6"/>
<line x1="86.80" y1="576.30" x2="86.80" y2="706.80" stroke="#e6e6e6" stroke-width="0.6"/>
<line x1="125.20" y1="576.30" x2="125.20" y2="706.80" stroke="#e6e6e6" stroke-width="0.6"/>
<line x1="163.60" y1="576.30" x2="163.60" y2="706.80" stroke="#e6e6e6" stroke-width="0.6"/>
<line x1="202.00" y1="576.30" x2="202.00" y2="706.80" stroke="#e6e6e6" stroke-width="0.6"/>
<line x1="41.00" y1="582.50" x2="205.20" y2="582.50" stroke="#e6e6e6" stroke-width="0.6"/>
<line x1="41.00" y1="618.40" x2="205.20" y2="618.40" stroke="#e6e6e6" stroke-width="0.6"/>
<line x1="41.00" y1="654.90" x2="205.20" y2="654.90" stroke="#e6e6e6" stroke-width="0.6"/>
<line x1="41.00" y1="691.10" x2="205.20" y2="691.10" stroke="#e6e6e6" stroke-width="0.6"/>
<polyline points="48.4,582.5 51.0,582.5 51.0,592.0 53.0,592.0 53.0,598.5 55.0,598.5 55.0,605.0 58.5,605.0 58.5,615.0 60.5,615.0 60.5,620.0 62.5,620.0 62.5,625.0 66.0,625.0 66.0,634.5 68.5,634.5 68.5,640.0 71.0,640.0 71.0,644.2 73.5,644.2 73.5,648.5 75.5,648.5 75.5,651.0 77.5,651.0 77.5,653.5 81.2,653.5 81.2,658.0 83.8,658.0 83.8,665.0 85.8,665.0 85.8,666.2 87.9,666.2 87.9,667.5 90.0,667.5 90.0,668.8 93.8,668.8 93.8,676.2 95.9,676.2 95.9,676.6 98.1,676.6 98.1,676.9 100.3,676.9 100.3,677.2 102.5,677.2 102.5,677.5 103.8,677.5 103.8,686.2 106.2,686.2 106.2,693.8 108.3,693.8 108.3,695.7 110.4,695.7 110.4,697.6 112.5,697.6 112.5,699.5 148.0,699.5" fill="none" stroke="#8f8f8f" stroke-width="1.1" stroke-linejoin="round"/>
<polyline points="48.4,582.6 50.0,588.0 52.0,596.0 54.0,605.0 56.0,613.0 58.0,621.0 61.0,629.0 64.0,637.0 67.0,645.0 70.0,651.0 73.0,656.0 76.0,661.0 79.0,665.0 81.0,672.0 83.0,676.0 87.0,676.0 88.0,686.0 94.0,688.0 96.0,694.0 102.0,696.0" fill="none" stroke="#8f8f8f" stroke-width="1.0" stroke-dasharray="1.3 1.5" stroke-linejoin="round"/>
<polyline points="48.4,582.6 52.0,586.0 56.0,592.0 60.0,599.0 64.0,605.0 68.0,610.0 72.0,614.0 76.0,618.0 80.0,622.0 84.0,627.0 88.0,631.0 92.0,634.0 96.0,638.0 100.0,643.0 103.0,648.0 105.0,652.0 108.0,661.0 120.0,661.0 122.0,662.0" fill="none" stroke="#1a1a1a" stroke-width="1.25" stroke-dasharray="1.3 1.5" stroke-linejoin="round"/>
<polyline points="48.4,582.6 50.2,582.6 50.2,585.8 52.0,585.8 52.0,589.0 53.3,589.0 53.3,591.3 54.7,591.3 54.7,593.7 56.0,593.7 56.0,596.0 57.3,596.0 57.3,598.0 58.7,598.0 58.7,600.0 60.0,600.0 60.0,602.0 61.3,602.0 61.3,604.0 62.7,604.0 62.7,606.0 64.0,606.0 64.0,608.0 65.3,608.0 65.3,609.7 66.7,609.7 66.7,611.3 68.0,611.3 68.0,613.0 69.3,613.0 69.3,614.3 70.7,614.3 70.7,615.7 72.0,615.7 72.0,617.0 73.3,617.0 73.3,618.3 74.7,618.3 74.7,619.7 76.0,619.7 76.0,621.0 77.3,621.0 77.3,622.3 78.7,622.3 78.7,623.7 80.0,623.7 80.0,625.0 81.3,625.0 81.3,626.3 82.7,626.3 82.7,627.7 84.0,627.7 84.0,629.0 85.3,629.0 85.3,630.3 86.7,630.3 86.7,631.7 88.0,631.7 88.0,633.0 89.3,633.0 89.3,634.3 90.7,634.3 90.7,635.7 92.0,635.7 92.0,637.0 93.3,637.0 93.3,638.3 94.7,638.3 94.7,639.7 96.0,639.7 96.0,641.0 97.3,641.0 97.3,642.3 98.7,642.3 98.7,643.7 100.0,643.7 100.0,645.0 101.3,645.0 101.3,646.3 102.7,646.3 102.7,647.7 104.0,647.7 104.0,649.0 105.3,649.0 105.3,650.3 106.7,650.3 106.7,651.7 108.0,651.7 108.0,653.0 109.3,653.0 109.3,654.0 110.7,654.0 110.7,655.0 112.0,655.0 112.0,656.0 113.3,656.0 113.3,657.0 114.7,657.0 114.7,658.0 116.0,658.0 116.0,659.0 117.3,659.0 117.3,659.8 118.7,659.8 118.7,660.7 120.0,660.7 120.0,661.5 121.3,661.5 121.3,662.3 122.7,662.3 122.7,663.2 124.0,663.2 124.0,664.0 125.3,664.0 125.3,664.8 126.7,664.8 126.7,665.7 128.0,665.7 128.0,666.5 129.3,666.5 129.3,667.2 130.7,667.2 130.7,667.8 132.0,667.8 132.0,668.5 133.3,668.5 133.3,669.2 134.7,669.2 134.7,669.8 136.0,669.8 136.0,670.5 137.3,670.5 137.3,671.1 138.7,671.1 138.7,671.8 140.0,671.8 140.0,672.4 141.5,672.4 141.5,673.7 143.0,673.7 143.0,675.0 144.8,675.0 144.8,676.1 146.6,676.1 146.6,677.3 148.3,677.3 148.3,678.1 150.0,678.1 150.0,679.0 151.6,679.0 151.6,679.8 153.1,679.8 153.1,680.6 154.6,680.6 154.6,682.0 156.0,682.0 156.0,683.5 158.0,683.5 158.0,685.5 159.4,685.5 159.4,685.7 160.8,685.7 160.8,685.9 162.2,685.9 162.2,686.1 163.6,686.1 163.6,686.3 165.0,686.3 165.0,686.5 166.5,686.5 166.5,686.6 168.1,686.6 168.1,686.7 169.6,686.7 169.6,686.8 171.2,686.8 171.2,686.9 172.7,686.9 172.7,687.0 174.0,687.0 174.0,687.8 175.3,687.8 175.3,688.5 176.7,688.5 176.7,689.2 178.0,689.2 178.0,690.0 179.5,690.0 179.5,690.8 181.0,690.8 181.0,691.5 182.5,691.5 182.5,692.2 184.0,692.2 184.0,693.0 186.0,693.0 186.0,698.0 187.0,698.0 187.0,701.0 198.0,701.0" fill="none" stroke="#1a1a1a" stroke-width="0.95" stroke-linejoin="round"/>
<rect x="41.00" y="576.30" width="164.20" height="130.50" fill="none" stroke="#969696" stroke-width="0.9"/>
<line x1="48.40" y1="706.80" x2="48.40" y2="708.80" stroke="#222" stroke-width="0.9"/>
<text x="48.4" y="713.4" font-size="5.5" text-anchor="middle" fill="#111" stroke="#111" stroke-width="0.121">0</text>
<line x1="86.80" y1="706.80" x2="86.80" y2="708.80" stroke="#222" stroke-width="0.9"/>
<text x="86.8" y="713.4" font-size="5.5" text-anchor="middle" fill="#111" stroke="#111" stroke-width="0.121">5</text>
<line x1="125.20" y1="706.80" x2="125.20" y2="708.80" stroke="#222" stroke-width="0.9"/>
<text x="125.2" y="713.4" font-size="5.5" text-anchor="middle" fill="#111" stroke="#111" stroke-width="0.121">10</text>
<line x1="163.60" y1="706.80" x2="163.60" y2="708.80" stroke="#222" stroke-width="0.9"/>
<text x="163.6" y="713.4" font-size="5.5" text-anchor="middle" fill="#111" stroke="#111" stroke-width="0.121">15</text>
<line x1="202.00" y1="706.80" x2="202.00" y2="708.80" stroke="#222" stroke-width="0.9"/>
<text x="202.0" y="713.4" font-size="5.5" text-anchor="middle" fill="#111" stroke="#111" stroke-width="0.121">20</text>
<line x1="39.00" y1="582.50" x2="41.00" y2="582.50" stroke="#222" stroke-width="0.9"/>
<text x="38.4" y="584.55" font-size="5.5" text-anchor="end" fill="#111" stroke="#111" stroke-width="0.121">1.00</text>
<line x1="39.00" y1="618.40" x2="41.00" y2="618.40" stroke="#222" stroke-width="0.9"/>
<text x="38.4" y="620.45" font-size="5.5" text-anchor="end" fill="#111" stroke="#111" stroke-width="0.121">0.75</text>
<line x1="39.00" y1="654.90" x2="41.00" y2="654.90" stroke="#222" stroke-width="0.9"/>
<text x="38.4" y="656.95" font-size="5.5" text-anchor="end" fill="#111" stroke="#111" stroke-width="0.121">0.50</text>
<line x1="39.00" y1="691.10" x2="41.00" y2="691.10" stroke="#222" stroke-width="0.9"/>
<text x="38.4" y="693.15" font-size="5.5" text-anchor="end" fill="#111" stroke="#111" stroke-width="0.121">0.25</text>
<text x="123.1" y="721.3" font-size="7.1" text-anchor="middle" fill="#111" stroke="#111" stroke-width="0.156">Years since diagnosis</text>
<text x="19.6" y="643.2" font-size="7.1" text-anchor="middle" fill="#111" stroke="#111" stroke-width="0.156" transform="rotate(-90 19.6 643.2)">Survival probability</text>
<rect x="95.80" y="580.20" width="107.30" height="24.30" fill="#fff" stroke="#333" stroke-width="0.8"/>
<text x="166.4" y="586.2" font-size="5.1" text-anchor="middle" fill="#111" stroke="#111" stroke-width="0.112">No switch</text>
<text x="191.2" y="586.2" font-size="5.1" text-anchor="middle" fill="#111" stroke="#111" stroke-width="0.112">Switch</text>
<text x="147.0" y="594.3" font-size="5.1" text-anchor="end" fill="#111" stroke="#111" stroke-width="0.112">Single cancer (KIRK)</text>
<text x="167.0" y="594.3" font-size="5.1" text-anchor="middle" fill="#111" stroke="#111" stroke-width="0.112">412</text>
<text x="191.6" y="594.3" font-size="5.1" text-anchor="middle" fill="#111" stroke="#111" stroke-width="0.112">110</text>
<text x="148.9" y="602.8" font-size="5.1" text-anchor="end" fill="#111" stroke="#111" stroke-width="0.112">Pan cancer</text>
<text x="167.0" y="602.8" font-size="5.1" text-anchor="middle" fill="#111" stroke="#111" stroke-width="0.112">4855</text>
<text x="191.6" y="602.8" font-size="5.1" text-anchor="middle" fill="#111" stroke="#111" stroke-width="0.112">377</text>
<text x="199.2" y="613.2" font-size="5.05" text-anchor="end" fill="#111" stroke="#111" stroke-width="0.111">Pan Cancer P&lt;6.8e-10</text>
<text x="199.2" y="619.2" font-size="5.05" text-anchor="end" fill="#111" stroke="#111" stroke-width="0.111">Single Cancer P&lt;3.8e-09</text>
<text x="211.8" y="631.9" font-size="6.35" fill="#111" stroke="#111" stroke-width="0.14">Isoform switch</text>
<line x1="212.20" y1="637.30" x2="217.80" y2="637.30" stroke="#1a1a1a" stroke-width="1.25"/>
<text x="219.70000000000002" y="639.1" font-size="5.05" fill="#111" stroke="#111" stroke-width="0.111">Not detected</text>
<line x1="212.20" y1="644.70" x2="217.80" y2="644.70" stroke="#8f8f8f" stroke-width="1.15"/>
<text x="219.70000000000002" y="646.5" font-size="5.05" fill="#111" stroke="#111" stroke-width="0.111">Detected</text>
<text x="211.8" y="658.6999999999999" font-size="6.35" fill="#111" stroke="#111" stroke-width="0.14">Data</text>
<line x1="212.20" y1="664.10" x2="217.80" y2="664.10" stroke="#1a1a1a" stroke-width="1.25"/>
<text x="219.70000000000002" y="665.9" font-size="5.05" fill="#111" stroke="#111" stroke-width="0.111">Pancancer</text>
<line x1="212.40" y1="672.20" x2="218.00" y2="672.20" stroke="#1a1a1a" stroke-width="1.3" stroke-dasharray="1.4 2.6"/>
<text x="219.70000000000002" y="671.1999999999999" font-size="5.05" fill="#111" stroke="#111" stroke-width="0.111">Single cancer</text>
<text x="219.70000000000002" y="676.6999999999999" font-size="5.05" fill="#111" stroke="#111" stroke-width="0.111">(KIRK)</text>
<text x="259.4" y="545.3" font-size="13" font-weight="bold" fill="#000" stroke="#000" stroke-width="0.286">G</text>
<text x="290.1" y="542.7" font-size="7.0" font-weight="bold" fill="#111" stroke="#111" stroke-width="0.154">SHC1</text>
<rect x="290.60" y="544.70" width="165.00" height="161.50" fill="#fff" stroke="none" stroke-width="1"/>
<line x1="317.50" y1="544.70" x2="317.50" y2="706.20" stroke="#f2f2f2" stroke-width="0.5"/>
<line x1="355.70" y1="544.70" x2="355.70" y2="706.20" stroke="#f2f2f2" stroke-width="0.5"/>
<line x1="393.90" y1="544.70" x2="393.90" y2="706.20" stroke="#f2f2f2" stroke-width="0.5"/>
<line x1="432.10" y1="544.70" x2="432.10" y2="706.20" stroke="#f2f2f2" stroke-width="0.5"/>
<line x1="290.60" y1="572.60" x2="455.60" y2="572.60" stroke="#f2f2f2" stroke-width="0.5"/>
<line x1="290.60" y1="615.00" x2="455.60" y2="615.00" stroke="#f2f2f2" stroke-width="0.5"/>
<line x1="290.60" y1="657.40" x2="455.60" y2="657.40" stroke="#f2f2f2" stroke-width="0.5"/>
<line x1="290.60" y1="699.80" x2="455.60" y2="699.80" stroke="#f2f2f2" stroke-width="0.5"/>
<line x1="298.40" y1="544.70" x2="298.40" y2="706.20" stroke="#e6e6e6" stroke-width="0.6"/>
<line x1="336.60" y1="544.70" x2="336.60" y2="706.20" stroke="#e6e6e6" stroke-width="0.6"/>
<line x1="374.80" y1="544.70" x2="374.80" y2="706.20" stroke="#e6e6e6" stroke-width="0.6"/>
<line x1="413.00" y1="544.70" x2="413.00" y2="706.20" stroke="#e6e6e6" stroke-width="0.6"/>
<line x1="451.20" y1="544.70" x2="451.20" y2="706.20" stroke="#e6e6e6" stroke-width="0.6"/>
<line x1="290.60" y1="551.40" x2="455.60" y2="551.40" stroke="#e6e6e6" stroke-width="0.6"/>
<line x1="290.60" y1="593.80" x2="455.60" y2="593.80" stroke="#e6e6e6" stroke-width="0.6"/>
<line x1="290.60" y1="636.20" x2="455.60" y2="636.20" stroke="#e6e6e6" stroke-width="0.6"/>
<line x1="290.60" y1="678.60" x2="455.60" y2="678.60" stroke="#e6e6e6" stroke-width="0.6"/>
<polyline points="298.4,551.4 300.5,558.0 302.5,565.0 306.2,578.8 310.0,592.5 313.8,605.0 317.5,616.2 320.0,624.0 322.5,635.5 327.5,645.5 332.5,658.0 337.5,661.8 341.2,667.5 351.2,668.0 353.8,680.5 355.0,698.0 356.2,699.4 382.5,699.4" fill="none" stroke="#8f8f8f" stroke-width="1.1" stroke-dasharray="3 2" stroke-linejoin="round"/>
<polyline points="298.4,551.4 301.0,551.4 301.0,560.0 304.0,560.0 304.0,569.0 307.0,569.0 307.0,578.0 310.0,578.0 310.0,587.0 313.0,587.0 313.0,595.0 316.0,595.0 316.0,603.0 319.0,603.0 319.0,610.0 322.0,610.0 322.0,616.0 325.0,616.0 325.0,621.0 327.0,621.0 327.0,629.0 330.0,629.0 330.0,634.0 333.0,634.0 333.0,640.0 335.0,640.0 335.0,645.0 338.0,645.0 338.0,648.0 340.0,648.0 340.0,652.0 342.5,652.0 342.5,652.5 345.0,652.5 345.0,653.0 346.0,653.0 346.0,659.0 348.5,659.0 348.5,659.5 351.0,659.5 351.0,660.0 354.0,660.0 354.0,664.0 358.0,664.0 358.0,669.0 362.3,669.0 362.3,674.5 399.2,674.5" fill="none" stroke="#444" stroke-width="1.05" stroke-dasharray="1.3 0.55" stroke-linejoin="round"/>
<polyline points="298.4,551.4 300.2,551.4 300.2,555.0 302.0,555.0 302.0,558.5 303.3,558.5 303.3,561.0 304.7,561.0 304.7,563.5 306.0,563.5 306.0,566.0 307.3,566.0 307.3,568.3 308.7,568.3 308.7,570.7 310.0,570.7 310.0,573.0 311.3,573.0 311.3,575.0 312.7,575.0 312.7,577.0 314.0,577.0 314.0,579.0 315.3,579.0 315.3,580.8 316.7,580.8 316.7,582.7 318.0,582.7 318.0,584.5 319.3,584.5 319.3,586.2 320.7,586.2 320.7,587.8 322.0,587.8 322.0,589.5 323.3,589.5 323.3,591.2 324.7,591.2 324.7,592.8 326.0,592.8 326.0,594.5 327.3,594.5 327.3,596.2 328.7,596.2 328.7,597.8 330.0,597.8 330.0,599.5 331.3,599.5 331.3,601.0 332.7,601.0 332.7,602.5 334.0,602.5 334.0,604.0 335.3,604.0 335.3,605.5 336.7,605.5 336.7,607.0 338.0,607.0 338.0,608.5 339.3,608.5 339.3,610.0 340.7,610.0 340.7,611.5 342.0,611.5 342.0,613.0 343.3,613.0 343.3,614.5 344.7,614.5 344.7,616.0 346.0,616.0 346.0,617.5 347.3,617.5 347.3,618.8 348.7,618.8 348.7,620.2 350.0,620.2 350.0,621.5 351.3,621.5 351.3,622.8 352.7,622.8 352.7,624.2 354.0,624.2 354.0,625.5 355.3,625.5 355.3,626.8 356.7,626.8 356.7,628.2 358.0,628.2 358.0,629.5 359.3,629.5 359.3,630.8 360.7,630.8 360.7,632.2 362.0,632.2 362.0,633.5 363.3,633.5 363.3,634.8 364.7,634.8 364.7,636.2 366.0,636.2 366.0,637.5 367.3,637.5 367.3,638.8 368.7,638.8 368.7,640.2 370.0,640.2 370.0,641.5 371.3,641.5 371.3,643.0 372.7,643.0 372.7,644.5 374.0,644.5 374.0,646.0 375.3,646.0 375.3,646.8 376.7,646.8 376.7,647.7 378.0,647.7 378.0,648.5 379.3,648.5 379.3,649.2 380.7,649.2 380.7,649.8 382.0,649.8 382.0,650.5 383.3,650.5 383.3,651.3 384.7,651.3 384.7,652.2 386.0,652.2 386.0,653.0 387.3,653.0 387.3,653.8 388.7,653.8 388.7,654.7 390.0,654.7 390.0,655.5 391.3,655.5 391.3,656.2 392.7,656.2 392.7,656.8 394.0,656.8 394.0,657.5 395.3,657.5 395.3,658.7 396.7,658.7 396.7,659.8 398.0,659.8 398.0,661.0 399.3,661.0 399.3,662.7 400.7,662.7 400.7,664.3 402.0,664.3 402.0,666.0 403.3,666.0 403.3,667.3 404.7,667.3 404.7,668.7 406.0,668.7 406.0,670.0 407.8,670.0 407.8,671.9 409.6,671.9 409.6,673.7 422.7,673.7 424.0,673.7 424.0,674.4 425.4,674.4 425.4,675.1 426.7,675.1 426.7,675.8 428.0,675.8 428.0,676.5 429.6,676.5 429.6,677.3 431.1,677.3 431.1,678.0 432.6,678.0 432.6,678.8 434.2,678.8 434.2,679.6 435.0,679.6 435.0,686.0 435.8,686.0 435.8,689.6 447.2,689.6" fill="none" stroke="#1a1a1a" stroke-width="0.95" stroke-linejoin="round"/>
<rect x="290.60" y="544.70" width="165.00" height="161.50" fill="none" stroke="#969696" stroke-width="0.9"/>
<line x1="298.40" y1="706.20" x2="298.40" y2="708.20" stroke="#222" stroke-width="0.9"/>
<text x="298.4" y="715.0" font-size="5.8" text-anchor="middle" fill="#111" stroke="#111" stroke-width="0.128">0</text>
<line x1="336.60" y1="706.20" x2="336.60" y2="708.20" stroke="#222" stroke-width="0.9"/>
<text x="336.6" y="715.0" font-size="5.8" text-anchor="middle" fill="#111" stroke="#111" stroke-width="0.128">5</text>
<line x1="374.80" y1="706.20" x2="374.80" y2="708.20" stroke="#222" stroke-width="0.9"/>
<text x="374.8" y="715.0" font-size="5.8" text-anchor="middle" fill="#111" stroke="#111" stroke-width="0.128">10</text>
<line x1="413.00" y1="706.20" x2="413.00" y2="708.20" stroke="#222" stroke-width="0.9"/>
<text x="413.0" y="715.0" font-size="5.8" text-anchor="middle" fill="#111" stroke="#111" stroke-width="0.128">15</text>
<line x1="451.20" y1="706.20" x2="451.20" y2="708.20" stroke="#222" stroke-width="0.9"/>
<text x="451.2" y="715.0" font-size="5.8" text-anchor="middle" fill="#111" stroke="#111" stroke-width="0.128">20</text>
<line x1="288.60" y1="551.40" x2="290.60" y2="551.40" stroke="#222" stroke-width="0.9"/>
<text x="286.9" y="553.45" font-size="5.8" text-anchor="end" fill="#111" stroke="#111" stroke-width="0.128">1.00</text>
<line x1="288.60" y1="593.80" x2="290.60" y2="593.80" stroke="#222" stroke-width="0.9"/>
<text x="286.9" y="595.85" font-size="5.8" text-anchor="end" fill="#111" stroke="#111" stroke-width="0.128">0.75</text>
<line x1="288.60" y1="636.20" x2="290.60" y2="636.20" stroke="#222" stroke-width="0.9"/>
<text x="286.9" y="638.25" font-size="5.8" text-anchor="end" fill="#111" stroke="#111" stroke-width="0.128">0.50</text>
<line x1="288.60" y1="678.60" x2="290.60" y2="678.60" stroke="#222" stroke-width="0.9"/>
<text x="286.9" y="680.65" font-size="5.8" text-anchor="end" fill="#111" stroke="#111" stroke-width="0.128">0.25</text>
<text x="377.5" y="721.3" font-size="7.15" text-anchor="middle" fill="#111" stroke="#111" stroke-width="0.157">Years since diagnosis</text>
<text x="272.5" y="622.4" font-size="7.15" text-anchor="middle" fill="#111" stroke="#111" stroke-width="0.157" transform="rotate(-90 272.5 622.4)">Survival probability</text>
<text x="450.8" y="556.2" font-size="5.4" text-anchor="end" fill="#111" stroke="#111" stroke-width="0.119">Small Switches: P = 1.1e–07</text>
<text x="450.8" y="564.4" font-size="5.4" text-anchor="end" fill="#111" stroke="#111" stroke-width="0.119">Large Switches: P = 9.3e–07</text>
<text x="450.8" y="572.6" font-size="5.4" text-anchor="end" fill="#111" stroke="#111" stroke-width="0.119">All Switches: P = 1.2e–11</text>
<text x="459.7" y="613.6" font-size="6.3" fill="#111" stroke="#111" stroke-width="0.139">Isoform switch</text>
<line x1="460.10" y1="620.90" x2="467.50" y2="620.90" stroke="#1a1a1a" stroke-width="1.3"/>
<text x="469.5" y="623.2" font-size="5.95" fill="#111" stroke="#111" stroke-width="0.131">None (<tspan font-style="italic">n</tspan> = 4,855)</text>
<line x1="460.10" y1="629.90" x2="467.50" y2="629.90" stroke="#444" stroke-width="1.05" stroke-dasharray="1.3 0.55"/>
<text x="469.5" y="632.2" font-size="5.95" fill="#111" stroke="#111" stroke-width="0.131">Standard (<tspan font-style="italic">n</tspan> = 177)</text>
<line x1="460.10" y1="638.90" x2="467.50" y2="638.90" stroke="#8f8f8f" stroke-width="1.0" stroke-dasharray="2.6 2"/>
<text x="469.5" y="641.2" font-size="5.95" fill="#111" stroke="#111" stroke-width="0.131">Large (<tspan font-style="italic">n</tspan> = 200)</text>
</svg>
</body>
</html>
